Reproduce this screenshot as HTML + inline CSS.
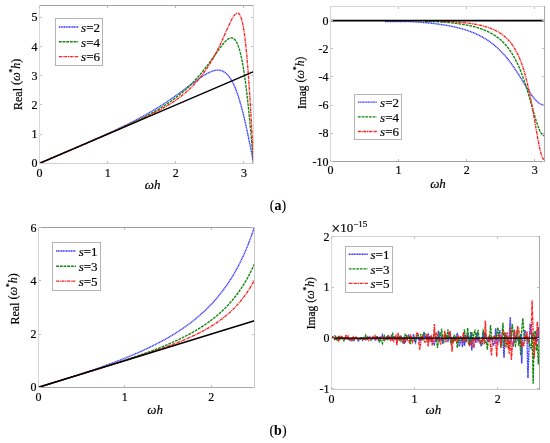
<!DOCTYPE html>
<html><head><meta charset="utf-8"><style>
html,body{margin:0;padding:0;background:#fff;}
svg{display:block;}
text{font-family:"Liberation Serif",serif;fill:#000;stroke:#000;stroke-width:0.18px;}
.tk, svg > g.t text{font-size:12px;}
.lg{font-size:13px;}
.xl{font-size:13px;font-style:italic;}
.yl{font-size:12px;}
.cap{font-size:14px;stroke-width:0.05px;}
</style></head><body>
<svg width="550" height="443" viewBox="0 0 550 443">
<defs><clipPath id="c1"><rect x="39.5" y="5.5" width="214.1" height="157.8"/></clipPath><clipPath id="c2"><rect x="330.5" y="6.5" width="214.0" height="154.9"/></clipPath><clipPath id="c3"><rect x="38.5" y="227.5" width="215.9" height="159.8"/></clipPath><clipPath id="c4"><rect x="331.4" y="236.5" width="208.0" height="152.8"/></clipPath></defs>
<rect width="550" height="443" fill="#fff"/>
<g><path d="M39.50,163.30 L40.04,163.07 L40.57,162.84 L41.11,162.61 L41.65,162.38 L42.18,162.15 L42.72,161.92 L43.26,161.69 L43.79,161.46 L44.33,161.23 L44.87,161.00 L45.40,160.77 L45.94,160.54 L46.48,160.31 L47.01,160.08 L47.55,159.85 L48.09,159.62 L48.62,159.39 L49.16,159.16 L49.70,158.93 L50.23,158.70 L50.77,158.47 L51.31,158.24 L51.84,158.01 L52.38,157.78 L52.91,157.55 L53.45,157.32 L53.99,157.09 L54.52,156.86 L55.06,156.63 L55.60,156.40 L56.13,156.17 L56.67,155.94 L57.21,155.71 L57.74,155.48 L58.28,155.25 L58.82,155.02 L59.35,154.79 L59.89,154.56 L60.43,154.33 L60.96,154.10 L61.50,153.87 L62.04,153.64 L62.57,153.41 L63.11,153.18 L63.65,152.95 L64.18,152.72 L64.72,152.49 L65.26,152.26 L65.79,152.03 L66.33,151.80 L66.87,151.57 L67.40,151.34 L67.94,151.11 L68.48,150.88 L69.01,150.65 L69.55,150.42 L70.09,150.19 L70.62,149.96 L71.16,149.73 L71.70,149.50 L72.23,149.26 L72.77,149.03 L73.31,148.80 L73.84,148.57 L74.38,148.34 L74.92,148.11 L75.45,147.88 L75.99,147.65 L76.52,147.42 L77.06,147.18 L77.60,146.95 L78.13,146.72 L78.67,146.49 L79.21,146.26 L79.74,146.03 L80.28,145.79 L80.82,145.56 L81.35,145.33 L81.89,145.10 L82.43,144.87 L82.96,144.63 L83.50,144.40 L84.04,144.17 L84.57,143.93 L85.11,143.70 L85.65,143.47 L86.18,143.23 L86.72,143.00 L87.26,142.77 L87.79,142.53 L88.33,142.30 L88.87,142.07 L89.40,141.83 L89.94,141.60 L90.48,141.36 L91.01,141.13 L91.55,140.89 L92.09,140.66 L92.62,140.42 L93.16,140.19 L93.70,139.95 L94.23,139.71 L94.77,139.48 L95.31,139.24 L95.84,139.00 L96.38,138.77 L96.92,138.53 L97.45,138.29 L97.99,138.05 L98.53,137.81 L99.06,137.58 L99.60,137.34 L100.13,137.10 L100.67,136.86 L101.21,136.62 L101.74,136.38 L102.28,136.14 L102.82,135.90 L103.35,135.66 L103.89,135.41 L104.43,135.17 L104.96,134.93 L105.50,134.69 L106.04,134.44 L106.57,134.20 L107.11,133.96 L107.65,133.71 L108.18,133.47 L108.72,133.22 L109.26,132.98 L109.79,132.73 L110.33,132.48 L110.87,132.24 L111.40,131.99 L111.94,131.74 L112.48,131.49 L113.01,131.25 L113.55,131.00 L114.09,130.75 L114.62,130.50 L115.16,130.24 L115.70,129.99 L116.23,129.74 L116.77,129.49 L117.31,129.23 L117.84,128.98 L118.38,128.73 L118.92,128.47 L119.45,128.22 L119.99,127.96 L120.53,127.70 L121.06,127.44 L121.60,127.19 L122.14,126.93 L122.67,126.67 L123.21,126.41 L123.74,126.15 L124.28,125.88 L124.82,125.62 L125.35,125.36 L125.89,125.10 L126.43,124.83 L126.96,124.57 L127.50,124.30 L128.04,124.03 L128.57,123.76 L129.11,123.50 L129.65,123.23 L130.18,122.96 L130.72,122.68 L131.26,122.41 L131.79,122.14 L132.33,121.87 L132.87,121.59 L133.40,121.32 L133.94,121.04 L134.48,120.76 L135.01,120.48 L135.55,120.20 L136.09,119.92 L136.62,119.64 L137.16,119.36 L137.70,119.08 L138.23,118.79 L138.77,118.51 L139.31,118.22 L139.84,117.93 L140.38,117.64 L140.92,117.35 L141.45,117.06 L141.99,116.77 L142.53,116.48 L143.06,116.18 L143.60,115.89 L144.14,115.59 L144.67,115.29 L145.21,115.00 L145.75,114.70 L146.28,114.40 L146.82,114.09 L147.35,113.79 L147.89,113.48 L148.43,113.18 L148.96,112.87 L149.50,112.56 L150.04,112.25 L150.57,111.94 L151.11,111.63 L151.65,111.31 L152.18,111.00 L152.72,110.68 L153.26,110.36 L153.79,110.05 L154.33,109.73 L154.87,109.40 L155.40,109.08 L155.94,108.75 L156.48,108.43 L157.01,108.10 L157.55,107.77 L158.09,107.44 L158.62,107.11 L159.16,106.78 L159.70,106.44 L160.23,106.10 L160.77,105.77 L161.31,105.43 L161.84,105.09 L162.38,104.74 L162.92,104.40 L163.45,104.06 L163.99,103.71 L164.53,103.36 L165.06,103.01 L165.60,102.66 L166.14,102.31 L166.67,101.95 L167.21,101.60 L167.75,101.24 L168.28,100.88 L168.82,100.52 L169.36,100.16 L169.89,99.79 L170.43,99.43 L170.96,99.06 L171.50,98.69 L172.04,98.32 L172.57,97.95 L173.11,97.58 L173.65,97.21 L174.18,96.83 L174.72,96.46 L175.26,96.08 L175.79,95.70 L176.33,95.32 L176.87,94.94 L177.40,94.55 L177.94,94.17 L178.48,93.78 L179.01,93.40 L179.55,93.01 L180.09,92.62 L180.62,92.23 L181.16,91.84 L181.70,91.44 L182.23,91.05 L182.77,90.65 L183.31,90.26 L183.84,89.86 L184.38,89.47 L184.92,89.07 L185.45,88.67 L185.99,88.27 L186.53,87.87 L187.06,87.47 L187.60,87.07 L188.14,86.67 L188.67,86.27 L189.21,85.87 L189.75,85.47 L190.28,85.07 L190.82,84.67 L191.36,84.27 L191.89,83.87 L192.43,83.47 L192.97,83.07 L193.50,82.67 L194.04,82.28 L194.57,81.88 L195.11,81.49 L195.65,81.10 L196.18,80.71 L196.72,80.32 L197.26,79.93 L197.79,79.55 L198.33,79.17 L198.87,78.79 L199.40,78.41 L199.94,78.04 L200.48,77.67 L201.01,77.30 L201.55,76.94 L202.09,76.59 L202.62,76.24 L203.16,75.89 L203.70,75.55 L204.23,75.21 L204.77,74.88 L205.31,74.56 L205.84,74.24 L206.38,73.94 L206.92,73.63 L207.45,73.34 L207.99,73.06 L208.53,72.78 L209.06,72.52 L209.60,72.26 L210.14,72.02 L210.67,71.79 L211.21,71.57 L211.75,71.36 L212.28,71.16 L212.82,70.98 L213.36,70.82 L213.89,70.67 L214.43,70.53 L214.97,70.41 L215.50,70.31 L216.04,70.23 L216.58,70.17 L217.11,70.13 L217.65,70.11 L218.18,70.11 L218.72,70.13 L219.26,70.18 L219.79,70.25 L220.33,70.35 L220.87,70.47 L221.40,70.63 L221.94,70.81 L222.48,71.02 L223.01,71.26 L223.55,71.54 L224.09,71.85 L224.62,72.20 L225.16,72.58 L225.70,73.00 L226.23,73.45 L226.77,73.95 L227.31,74.49 L227.84,75.07 L228.38,75.69 L228.92,76.36 L229.45,77.07 L229.99,77.83 L230.53,78.64 L231.06,79.50 L231.60,80.41 L232.14,81.37 L232.67,82.39 L233.21,83.45 L233.75,84.57 L234.28,85.75 L234.82,86.99 L235.36,88.28 L235.89,89.62 L236.43,91.03 L236.97,92.50 L237.50,94.02 L238.04,95.61 L238.58,97.25 L239.11,98.95 L239.65,100.71 L240.19,102.54 L240.72,104.42 L241.26,106.35 L241.79,108.35 L242.33,110.40 L242.87,112.51 L243.40,114.67 L243.94,116.89 L244.48,119.15 L245.01,121.47 L245.55,123.83 L246.09,126.24 L246.62,128.70 L247.16,131.19 L247.70,133.72 L248.23,136.29 L248.77,138.90 L249.31,141.53 L249.84,144.19 L250.38,146.87 L250.92,149.58 L251.45,152.30 L251.99,155.04 L252.53,157.79 L253.06,160.54 L253.60,163.30" fill="none" stroke="#3434ff" stroke-dasharray="1.2 0.45" stroke-width="1.35" clip-path="url(#c1)"/><path d="M39.50,163.30 L40.04,163.07 L40.57,162.84 L41.11,162.61 L41.65,162.38 L42.18,162.15 L42.72,161.92 L43.26,161.69 L43.79,161.46 L44.33,161.23 L44.87,161.00 L45.40,160.77 L45.94,160.54 L46.48,160.31 L47.01,160.08 L47.55,159.85 L48.09,159.62 L48.62,159.39 L49.16,159.16 L49.70,158.93 L50.23,158.70 L50.77,158.47 L51.31,158.24 L51.84,158.01 L52.38,157.78 L52.91,157.55 L53.45,157.32 L53.99,157.09 L54.52,156.86 L55.06,156.63 L55.60,156.40 L56.13,156.17 L56.67,155.94 L57.21,155.71 L57.74,155.48 L58.28,155.25 L58.82,155.02 L59.35,154.79 L59.89,154.56 L60.43,154.33 L60.96,154.10 L61.50,153.87 L62.04,153.64 L62.57,153.41 L63.11,153.18 L63.65,152.95 L64.18,152.72 L64.72,152.49 L65.26,152.26 L65.79,152.03 L66.33,151.80 L66.87,151.57 L67.40,151.34 L67.94,151.11 L68.48,150.88 L69.01,150.65 L69.55,150.42 L70.09,150.19 L70.62,149.96 L71.16,149.73 L71.70,149.50 L72.23,149.27 L72.77,149.04 L73.31,148.81 L73.84,148.58 L74.38,148.35 L74.92,148.12 L75.45,147.89 L75.99,147.66 L76.52,147.43 L77.06,147.20 L77.60,146.97 L78.13,146.74 L78.67,146.51 L79.21,146.28 L79.74,146.05 L80.28,145.82 L80.82,145.59 L81.35,145.36 L81.89,145.13 L82.43,144.90 L82.96,144.67 L83.50,144.44 L84.04,144.21 L84.57,143.98 L85.11,143.75 L85.65,143.52 L86.18,143.29 L86.72,143.06 L87.26,142.83 L87.79,142.60 L88.33,142.37 L88.87,142.14 L89.40,141.91 L89.94,141.68 L90.48,141.45 L91.01,141.22 L91.55,140.99 L92.09,140.75 L92.62,140.52 L93.16,140.29 L93.70,140.06 L94.23,139.83 L94.77,139.60 L95.31,139.37 L95.84,139.14 L96.38,138.91 L96.92,138.67 L97.45,138.44 L97.99,138.21 L98.53,137.98 L99.06,137.75 L99.60,137.52 L100.13,137.28 L100.67,137.05 L101.21,136.82 L101.74,136.59 L102.28,136.35 L102.82,136.12 L103.35,135.89 L103.89,135.66 L104.43,135.42 L104.96,135.19 L105.50,134.96 L106.04,134.72 L106.57,134.49 L107.11,134.25 L107.65,134.02 L108.18,133.79 L108.72,133.55 L109.26,133.32 L109.79,133.08 L110.33,132.85 L110.87,132.61 L111.40,132.38 L111.94,132.14 L112.48,131.90 L113.01,131.67 L113.55,131.43 L114.09,131.19 L114.62,130.96 L115.16,130.72 L115.70,130.48 L116.23,130.24 L116.77,130.00 L117.31,129.77 L117.84,129.53 L118.38,129.29 L118.92,129.05 L119.45,128.81 L119.99,128.57 L120.53,128.33 L121.06,128.08 L121.60,127.84 L122.14,127.60 L122.67,127.36 L123.21,127.11 L123.74,126.87 L124.28,126.63 L124.82,126.38 L125.35,126.14 L125.89,125.89 L126.43,125.64 L126.96,125.40 L127.50,125.15 L128.04,124.90 L128.57,124.65 L129.11,124.40 L129.65,124.15 L130.18,123.90 L130.72,123.65 L131.26,123.40 L131.79,123.15 L132.33,122.90 L132.87,122.64 L133.40,122.39 L133.94,122.13 L134.48,121.87 L135.01,121.62 L135.55,121.36 L136.09,121.10 L136.62,120.84 L137.16,120.58 L137.70,120.32 L138.23,120.06 L138.77,119.79 L139.31,119.53 L139.84,119.26 L140.38,119.00 L140.92,118.73 L141.45,118.46 L141.99,118.19 L142.53,117.92 L143.06,117.65 L143.60,117.38 L144.14,117.10 L144.67,116.83 L145.21,116.55 L145.75,116.27 L146.28,115.99 L146.82,115.71 L147.35,115.43 L147.89,115.15 L148.43,114.86 L148.96,114.58 L149.50,114.29 L150.04,114.00 L150.57,113.71 L151.11,113.42 L151.65,113.12 L152.18,112.83 L152.72,112.53 L153.26,112.23 L153.79,111.93 L154.33,111.63 L154.87,111.32 L155.40,111.02 L155.94,110.71 L156.48,110.40 L157.01,110.09 L157.55,109.78 L158.09,109.46 L158.62,109.14 L159.16,108.82 L159.70,108.50 L160.23,108.18 L160.77,107.85 L161.31,107.52 L161.84,107.19 L162.38,106.86 L162.92,106.53 L163.45,106.19 L163.99,105.85 L164.53,105.51 L165.06,105.16 L165.60,104.81 L166.14,104.46 L166.67,104.11 L167.21,103.75 L167.75,103.40 L168.28,103.03 L168.82,102.67 L169.36,102.30 L169.89,101.93 L170.43,101.56 L170.96,101.18 L171.50,100.81 L172.04,100.42 L172.57,100.04 L173.11,99.65 L173.65,99.26 L174.18,98.86 L174.72,98.46 L175.26,98.06 L175.79,97.65 L176.33,97.24 L176.87,96.83 L177.40,96.41 L177.94,95.99 L178.48,95.57 L179.01,95.14 L179.55,94.71 L180.09,94.27 L180.62,93.83 L181.16,93.39 L181.70,92.94 L182.23,92.48 L182.77,92.03 L183.31,91.56 L183.84,91.10 L184.38,90.63 L184.92,90.15 L185.45,89.67 L185.99,89.19 L186.53,88.70 L187.06,88.20 L187.60,87.70 L188.14,87.20 L188.67,86.69 L189.21,86.18 L189.75,85.66 L190.28,85.13 L190.82,84.60 L191.36,84.07 L191.89,83.52 L192.43,82.98 L192.97,82.43 L193.50,81.87 L194.04,81.31 L194.57,80.74 L195.11,80.16 L195.65,79.58 L196.18,79.00 L196.72,78.40 L197.26,77.81 L197.79,77.20 L198.33,76.59 L198.87,75.98 L199.40,75.36 L199.94,74.73 L200.48,74.10 L201.01,73.46 L201.55,72.81 L202.09,72.16 L202.62,71.50 L203.16,70.84 L203.70,70.17 L204.23,69.49 L204.77,68.81 L205.31,68.12 L205.84,67.43 L206.38,66.73 L206.92,66.03 L207.45,65.32 L207.99,64.61 L208.53,63.89 L209.06,63.16 L209.60,62.43 L210.14,61.70 L210.67,60.96 L211.21,60.22 L211.75,59.48 L212.28,58.73 L212.82,57.98 L213.36,57.23 L213.89,56.47 L214.43,55.72 L214.97,54.96 L215.50,54.21 L216.04,53.45 L216.58,52.70 L217.11,51.94 L217.65,51.19 L218.18,50.45 L218.72,49.71 L219.26,48.97 L219.79,48.24 L220.33,47.52 L220.87,46.81 L221.40,46.11 L221.94,45.42 L222.48,44.75 L223.01,44.10 L223.55,43.46 L224.09,42.84 L224.62,42.25 L225.16,41.68 L225.70,41.13 L226.23,40.62 L226.77,40.14 L227.31,39.70 L227.84,39.30 L228.38,38.94 L228.92,38.62 L229.45,38.36 L229.99,38.16 L230.53,38.01 L231.06,37.93 L231.60,37.92 L232.14,37.98 L232.67,38.13 L233.21,38.36 L233.75,38.68 L234.28,39.10 L234.82,39.63 L235.36,40.27 L235.89,41.03 L236.43,41.91 L236.97,42.93 L237.50,44.08 L238.04,45.39 L238.58,46.85 L239.11,48.47 L239.65,50.27 L240.19,52.24 L240.72,54.39 L241.26,56.73 L241.79,59.27 L242.33,62.01 L242.87,64.95 L243.40,68.11 L243.94,71.47 L244.48,75.05 L245.01,78.85 L245.55,82.85 L246.09,87.07 L246.62,91.50 L247.16,96.12 L247.70,100.95 L248.23,105.96 L248.77,111.14 L249.31,116.49 L249.84,121.99 L250.38,127.63 L250.92,133.38 L251.45,139.24 L251.99,145.18 L252.53,151.19 L253.06,157.23 L253.60,163.30" fill="none" stroke="#0c860c" stroke-dasharray="2.8 0.9" stroke-width="1.35" clip-path="url(#c1)"/><path d="M39.50,163.30 L40.04,163.07 L40.57,162.84 L41.11,162.61 L41.65,162.38 L42.18,162.15 L42.72,161.92 L43.26,161.69 L43.79,161.46 L44.33,161.23 L44.87,161.00 L45.40,160.77 L45.94,160.54 L46.48,160.31 L47.01,160.08 L47.55,159.85 L48.09,159.62 L48.62,159.39 L49.16,159.16 L49.70,158.93 L50.23,158.70 L50.77,158.47 L51.31,158.24 L51.84,158.01 L52.38,157.78 L52.91,157.55 L53.45,157.32 L53.99,157.09 L54.52,156.86 L55.06,156.63 L55.60,156.40 L56.13,156.17 L56.67,155.94 L57.21,155.71 L57.74,155.48 L58.28,155.25 L58.82,155.02 L59.35,154.79 L59.89,154.56 L60.43,154.33 L60.96,154.10 L61.50,153.87 L62.04,153.64 L62.57,153.41 L63.11,153.18 L63.65,152.95 L64.18,152.72 L64.72,152.49 L65.26,152.26 L65.79,152.03 L66.33,151.80 L66.87,151.57 L67.40,151.34 L67.94,151.11 L68.48,150.88 L69.01,150.65 L69.55,150.42 L70.09,150.20 L70.62,149.97 L71.16,149.74 L71.70,149.51 L72.23,149.28 L72.77,149.05 L73.31,148.82 L73.84,148.59 L74.38,148.36 L74.92,148.13 L75.45,147.90 L75.99,147.67 L76.52,147.44 L77.06,147.21 L77.60,146.98 L78.13,146.75 L78.67,146.52 L79.21,146.29 L79.74,146.06 L80.28,145.83 L80.82,145.60 L81.35,145.37 L81.89,145.14 L82.43,144.91 L82.96,144.68 L83.50,144.45 L84.04,144.22 L84.57,143.99 L85.11,143.76 L85.65,143.53 L86.18,143.30 L86.72,143.07 L87.26,142.84 L87.79,142.61 L88.33,142.38 L88.87,142.15 L89.40,141.92 L89.94,141.69 L90.48,141.46 L91.01,141.23 L91.55,141.00 L92.09,140.77 L92.62,140.54 L93.16,140.31 L93.70,140.08 L94.23,139.85 L94.77,139.62 L95.31,139.39 L95.84,139.16 L96.38,138.93 L96.92,138.70 L97.45,138.47 L97.99,138.24 L98.53,138.01 L99.06,137.77 L99.60,137.54 L100.13,137.31 L100.67,137.08 L101.21,136.85 L101.74,136.62 L102.28,136.39 L102.82,136.16 L103.35,135.93 L103.89,135.70 L104.43,135.47 L104.96,135.24 L105.50,135.01 L106.04,134.78 L106.57,134.55 L107.11,134.32 L107.65,134.08 L108.18,133.85 L108.72,133.62 L109.26,133.39 L109.79,133.16 L110.33,132.93 L110.87,132.70 L111.40,132.47 L111.94,132.23 L112.48,132.00 L113.01,131.77 L113.55,131.54 L114.09,131.31 L114.62,131.07 L115.16,130.84 L115.70,130.61 L116.23,130.38 L116.77,130.14 L117.31,129.91 L117.84,129.68 L118.38,129.45 L118.92,129.21 L119.45,128.98 L119.99,128.74 L120.53,128.51 L121.06,128.28 L121.60,128.04 L122.14,127.81 L122.67,127.57 L123.21,127.34 L123.74,127.10 L124.28,126.87 L124.82,126.63 L125.35,126.40 L125.89,126.16 L126.43,125.92 L126.96,125.69 L127.50,125.45 L128.04,125.21 L128.57,124.97 L129.11,124.74 L129.65,124.50 L130.18,124.26 L130.72,124.02 L131.26,123.78 L131.79,123.54 L132.33,123.30 L132.87,123.06 L133.40,122.82 L133.94,122.58 L134.48,122.33 L135.01,122.09 L135.55,121.85 L136.09,121.60 L136.62,121.36 L137.16,121.11 L137.70,120.87 L138.23,120.62 L138.77,120.38 L139.31,120.13 L139.84,119.88 L140.38,119.63 L140.92,119.38 L141.45,119.13 L141.99,118.88 L142.53,118.63 L143.06,118.38 L143.60,118.12 L144.14,117.87 L144.67,117.61 L145.21,117.36 L145.75,117.10 L146.28,116.84 L146.82,116.58 L147.35,116.32 L147.89,116.06 L148.43,115.80 L148.96,115.54 L149.50,115.27 L150.04,115.01 L150.57,114.74 L151.11,114.47 L151.65,114.20 L152.18,113.93 L152.72,113.66 L153.26,113.39 L153.79,113.11 L154.33,112.84 L154.87,112.56 L155.40,112.28 L155.94,112.00 L156.48,111.72 L157.01,111.44 L157.55,111.15 L158.09,110.86 L158.62,110.57 L159.16,110.28 L159.70,109.99 L160.23,109.70 L160.77,109.40 L161.31,109.10 L161.84,108.80 L162.38,108.50 L162.92,108.20 L163.45,107.89 L163.99,107.58 L164.53,107.27 L165.06,106.96 L165.60,106.64 L166.14,106.32 L166.67,106.00 L167.21,105.68 L167.75,105.35 L168.28,105.02 L168.82,104.69 L169.36,104.36 L169.89,104.02 L170.43,103.68 L170.96,103.34 L171.50,102.99 L172.04,102.64 L172.57,102.29 L173.11,101.93 L173.65,101.57 L174.18,101.21 L174.72,100.84 L175.26,100.48 L175.79,100.10 L176.33,99.72 L176.87,99.34 L177.40,98.96 L177.94,98.57 L178.48,98.18 L179.01,97.78 L179.55,97.38 L180.09,96.97 L180.62,96.56 L181.16,96.15 L181.70,95.73 L182.23,95.30 L182.77,94.87 L183.31,94.44 L183.84,94.00 L184.38,93.55 L184.92,93.11 L185.45,92.65 L185.99,92.19 L186.53,91.72 L187.06,91.25 L187.60,90.77 L188.14,90.29 L188.67,89.80 L189.21,89.30 L189.75,88.80 L190.28,88.29 L190.82,87.77 L191.36,87.25 L191.89,86.72 L192.43,86.18 L192.97,85.64 L193.50,85.08 L194.04,84.52 L194.57,83.96 L195.11,83.38 L195.65,82.80 L196.18,82.21 L196.72,81.61 L197.26,81.00 L197.79,80.38 L198.33,79.76 L198.87,79.12 L199.40,78.48 L199.94,77.82 L200.48,77.16 L201.01,76.49 L201.55,75.80 L202.09,75.11 L202.62,74.41 L203.16,73.69 L203.70,72.97 L204.23,72.23 L204.77,71.48 L205.31,70.72 L205.84,69.95 L206.38,69.17 L206.92,68.38 L207.45,67.57 L207.99,66.75 L208.53,65.92 L209.06,65.08 L209.60,64.22 L210.14,63.35 L210.67,62.47 L211.21,61.57 L211.75,60.66 L212.28,59.74 L212.82,58.80 L213.36,57.85 L213.89,56.89 L214.43,55.91 L214.97,54.92 L215.50,53.91 L216.04,52.89 L216.58,51.85 L217.11,50.81 L217.65,49.74 L218.18,48.67 L218.72,47.58 L219.26,46.48 L219.79,45.36 L220.33,44.23 L220.87,43.10 L221.40,41.94 L221.94,40.78 L222.48,39.61 L223.01,38.43 L223.55,37.24 L224.09,36.05 L224.62,34.85 L225.16,33.64 L225.70,32.44 L226.23,31.23 L226.77,30.03 L227.31,28.83 L227.84,27.63 L228.38,26.45 L228.92,25.28 L229.45,24.12 L229.99,22.99 L230.53,21.88 L231.06,20.81 L231.60,19.77 L232.14,18.77 L232.67,17.83 L233.21,16.94 L233.75,16.11 L234.28,15.37 L234.82,14.70 L235.36,14.13 L235.89,13.67 L236.43,13.33 L236.97,13.12 L237.50,13.06 L238.04,13.17 L238.58,13.45 L239.11,13.94 L239.65,14.65 L240.19,15.60 L240.72,16.81 L241.26,18.30 L241.79,20.10 L242.33,22.23 L242.87,24.71 L243.40,27.57 L243.94,30.82 L244.48,34.50 L245.01,38.61 L245.55,43.18 L246.09,48.21 L246.62,53.73 L247.16,59.73 L247.70,66.21 L248.23,73.18 L248.77,80.62 L249.31,88.50 L249.84,96.81 L250.38,105.52 L250.92,114.57 L251.45,123.93 L251.99,133.55 L252.53,143.35 L253.06,153.29 L253.60,163.30" fill="none" stroke="#ff1c1c" stroke-dasharray="3 0.7 1 0.7" stroke-width="1.35" clip-path="url(#c1)"/><path d="M39.50,163.30 L253.60,71.57" fill="none" stroke="#000" stroke-width="1.45" clip-path="url(#c1)"/><path d="M384.99,21.60 L385.39,21.60 L385.79,21.60 L386.19,21.60 L386.59,21.60 L386.99,21.60 L387.39,21.60 L387.79,21.60 L388.19,21.60 L388.59,21.60 L388.99,21.60 L389.39,21.60 L389.79,21.60 L390.19,21.60 L390.59,21.60 L390.99,21.60 L391.39,21.60 L391.79,21.60 L392.19,21.60 L392.59,21.60 L392.99,21.60 L393.39,21.60 L393.79,21.60 L394.19,21.60 L394.59,21.60 L394.99,21.60 L395.39,21.60 L395.79,21.60 L396.19,21.60 L396.59,21.60 L396.99,21.60 L397.39,21.60 L397.79,21.60 L398.19,21.60 L398.59,21.60 L398.99,21.60 L399.39,21.60 L399.79,21.60 L400.19,21.60 L400.59,21.60 L400.99,21.60 L401.38,21.60 L401.78,21.60 L402.18,21.60 L402.58,21.60 L402.98,21.60 L403.38,21.60 L403.78,21.60 L404.18,21.60 L404.58,21.60 L404.98,21.60 L405.38,21.60 L405.78,21.60 L406.18,21.60 L406.58,21.60 L406.98,21.60 L407.38,21.60 L407.78,21.60 L408.18,21.60 L408.58,21.60 L408.98,21.60 L409.38,21.60 L409.78,21.61 L410.18,21.63 L410.58,21.65 L410.98,21.67 L411.38,21.69 L411.78,21.71 L412.18,21.74 L412.58,21.76 L412.98,21.78 L413.38,21.80 L413.78,21.83 L414.18,21.85 L414.58,21.87 L414.98,21.90 L415.38,21.92 L415.78,21.95 L416.18,21.97 L416.58,22.00 L416.98,22.03 L417.38,22.05 L417.78,22.08 L418.17,22.11 L418.57,22.13 L418.97,22.16 L419.37,22.19 L419.77,22.22 L420.17,22.25 L420.57,22.28 L420.97,22.31 L421.37,22.34 L421.77,22.37 L422.17,22.40 L422.57,22.43 L422.97,22.46 L423.37,22.50 L423.77,22.53 L424.17,22.56 L424.57,22.60 L424.97,22.63 L425.37,22.67 L425.77,22.70 L426.17,22.74 L426.57,22.77 L426.97,22.81 L427.37,22.85 L427.77,22.89 L428.17,22.92 L428.57,22.96 L428.97,23.00 L429.37,23.04 L429.77,23.08 L430.17,23.12 L430.57,23.17 L430.97,23.21 L431.37,23.25 L431.77,23.29 L432.17,23.34 L432.57,23.38 L432.97,23.43 L433.37,23.47 L433.77,23.52 L434.17,23.57 L434.57,23.61 L434.96,23.66 L435.36,23.71 L435.76,23.76 L436.16,23.81 L436.56,23.86 L436.96,23.91 L437.36,23.96 L437.76,24.01 L438.16,24.07 L438.56,24.12 L438.96,24.18 L439.36,24.23 L439.76,24.29 L440.16,24.34 L440.56,24.40 L440.96,24.46 L441.36,24.52 L441.76,24.58 L442.16,24.64 L442.56,24.70 L442.96,24.76 L443.36,24.82 L443.76,24.89 L444.16,24.95 L444.56,25.02 L444.96,25.08 L445.36,25.15 L445.76,25.22 L446.16,25.29 L446.56,25.35 L446.96,25.43 L447.36,25.50 L447.76,25.57 L448.16,25.64 L448.56,25.72 L448.96,25.79 L449.36,25.87 L449.76,25.94 L450.16,26.02 L450.56,26.10 L450.96,26.18 L451.36,26.26 L451.76,26.34 L452.15,26.42 L452.55,26.51 L452.95,26.59 L453.35,26.68 L453.75,26.77 L454.15,26.86 L454.55,26.94 L454.95,27.04 L455.35,27.13 L455.75,27.22 L456.15,27.31 L456.55,27.41 L456.95,27.51 L457.35,27.60 L457.75,27.70 L458.15,27.80 L458.55,27.90 L458.95,28.01 L459.35,28.11 L459.75,28.22 L460.15,28.32 L460.55,28.43 L460.95,28.54 L461.35,28.65 L461.75,28.76 L462.15,28.88 L462.55,28.99 L462.95,29.11 L463.35,29.23 L463.75,29.35 L464.15,29.47 L464.55,29.59 L464.95,29.72 L465.35,29.84 L465.75,29.97 L466.15,30.10 L466.55,30.23 L466.95,30.36 L467.35,30.50 L467.75,30.64 L468.15,30.77 L468.55,30.91 L468.94,31.05 L469.34,31.20 L469.74,31.34 L470.14,31.49 L470.54,31.64 L470.94,31.79 L471.34,31.94 L471.74,32.10 L472.14,32.26 L472.54,32.42 L472.94,32.58 L473.34,32.74 L473.74,32.91 L474.14,33.07 L474.54,33.24 L474.94,33.42 L475.34,33.59 L475.74,33.77 L476.14,33.95 L476.54,34.13 L476.94,34.31 L477.34,34.50 L477.74,34.69 L478.14,34.88 L478.54,35.07 L478.94,35.27 L479.34,35.47 L479.74,35.67 L480.14,35.87 L480.54,36.08 L480.94,36.29 L481.34,36.50 L481.74,36.72 L482.14,36.94 L482.54,37.16 L482.94,37.38 L483.34,37.61 L483.74,37.84 L484.14,38.07 L484.54,38.31 L484.94,38.55 L485.34,38.79 L485.73,39.04 L486.13,39.29 L486.53,39.54 L486.93,39.80 L487.33,40.06 L487.73,40.32 L488.13,40.59 L488.53,40.86 L488.93,41.13 L489.33,41.41 L489.73,41.69 L490.13,41.98 L490.53,42.27 L490.93,42.56 L491.33,42.85 L491.73,43.16 L492.13,43.46 L492.53,43.77 L492.93,44.08 L493.33,44.40 L493.73,44.72 L494.13,45.05 L494.53,45.37 L494.93,45.71 L495.33,46.05 L495.73,46.39 L496.13,46.74 L496.53,47.09 L496.93,47.45 L497.33,47.81 L497.73,48.17 L498.13,48.54 L498.53,48.92 L498.93,49.30 L499.33,49.69 L499.73,50.08 L500.13,50.47 L500.53,50.87 L500.93,51.28 L501.33,51.69 L501.73,52.10 L502.13,52.52 L502.52,52.95 L502.92,53.38 L503.32,53.82 L503.72,54.26 L504.12,54.71 L504.52,55.16 L504.92,55.62 L505.32,56.08 L505.72,56.55 L506.12,57.02 L506.52,57.50 L506.92,57.99 L507.32,58.48 L507.72,58.98 L508.12,59.48 L508.52,59.99 L508.92,60.50 L509.32,61.02 L509.72,61.54 L510.12,62.07 L510.52,62.61 L510.92,63.15 L511.32,63.69 L511.72,64.24 L512.12,64.80 L512.52,65.36 L512.92,65.93 L513.32,66.50 L513.72,67.08 L514.12,67.66 L514.52,68.24 L514.92,68.84 L515.32,69.43 L515.72,70.03 L516.12,70.64 L516.52,71.25 L516.92,71.86 L517.32,72.48 L517.72,73.10 L518.12,73.72 L518.52,74.35 L518.92,74.98 L519.31,75.62 L519.71,76.25 L520.11,76.89 L520.51,77.54 L520.91,78.18 L521.31,78.83 L521.71,79.48 L522.11,80.13 L522.51,80.78 L522.91,81.43 L523.31,82.08 L523.71,82.73 L524.11,83.38 L524.51,84.03 L524.91,84.68 L525.31,85.33 L525.71,85.97 L526.11,86.62 L526.51,87.26 L526.91,87.89 L527.31,88.53 L527.71,89.16 L528.11,89.78 L528.51,90.40 L528.91,91.02 L529.31,91.62 L529.71,92.22 L530.11,92.82 L530.51,93.41 L530.91,93.98 L531.31,94.55 L531.71,95.11 L532.11,95.66 L532.51,96.20 L532.91,96.73 L533.31,97.25 L533.71,97.76 L534.11,98.25 L534.51,98.73 L534.91,99.20 L535.31,99.65 L535.71,100.09 L536.10,100.51 L536.50,100.91 L536.90,101.30 L537.30,101.68 L537.70,102.03 L538.10,102.37 L538.50,102.69 L538.90,102.99 L539.30,103.27 L539.70,103.54 L540.10,103.78 L540.50,104.00 L540.90,104.20 L541.30,104.39 L541.70,104.55 L542.10,104.69 L542.50,104.81 L542.90,104.91 L543.30,104.98 L543.70,105.04 L544.10,105.07 L544.50,105.08" fill="none" stroke="#3434ff" stroke-dasharray="1.2 0.45" stroke-width="1.35" clip-path="url(#c2)"/><path d="M425.18,21.60 L425.48,21.60 L425.78,21.60 L426.08,21.60 L426.38,21.60 L426.68,21.60 L426.98,21.60 L427.28,21.60 L427.58,21.60 L427.88,21.60 L428.17,21.60 L428.47,21.60 L428.77,21.60 L429.07,21.60 L429.37,21.60 L429.67,21.60 L429.97,21.60 L430.27,21.60 L430.57,21.60 L430.87,21.60 L431.17,21.60 L431.46,21.60 L431.76,21.60 L432.06,21.60 L432.36,21.60 L432.66,21.60 L432.96,21.60 L433.26,21.60 L433.56,21.60 L433.86,21.60 L434.16,21.60 L434.45,21.60 L434.75,21.60 L435.05,21.60 L435.35,21.62 L435.65,21.63 L435.95,21.65 L436.25,21.67 L436.55,21.68 L436.85,21.70 L437.15,21.72 L437.44,21.74 L437.74,21.75 L438.04,21.77 L438.34,21.79 L438.64,21.81 L438.94,21.83 L439.24,21.84 L439.54,21.86 L439.84,21.88 L440.14,21.90 L440.44,21.92 L440.73,21.94 L441.03,21.96 L441.33,21.98 L441.63,22.00 L441.93,22.03 L442.23,22.05 L442.53,22.07 L442.83,22.09 L443.13,22.11 L443.43,22.13 L443.72,22.16 L444.02,22.18 L444.32,22.20 L444.62,22.23 L444.92,22.25 L445.22,22.27 L445.52,22.30 L445.82,22.32 L446.12,22.35 L446.42,22.37 L446.72,22.40 L447.01,22.43 L447.31,22.45 L447.61,22.48 L447.91,22.51 L448.21,22.53 L448.51,22.56 L448.81,22.59 L449.11,22.62 L449.41,22.64 L449.71,22.67 L450.00,22.70 L450.30,22.73 L450.60,22.76 L450.90,22.79 L451.20,22.82 L451.50,22.85 L451.80,22.89 L452.10,22.92 L452.40,22.95 L452.70,22.98 L452.99,23.02 L453.29,23.05 L453.59,23.08 L453.89,23.12 L454.19,23.15 L454.49,23.19 L454.79,23.22 L455.09,23.26 L455.39,23.29 L455.69,23.33 L455.99,23.37 L456.28,23.41 L456.58,23.44 L456.88,23.48 L457.18,23.52 L457.48,23.56 L457.78,23.60 L458.08,23.64 L458.38,23.68 L458.68,23.72 L458.98,23.77 L459.27,23.81 L459.57,23.85 L459.87,23.89 L460.17,23.94 L460.47,23.98 L460.77,24.03 L461.07,24.07 L461.37,24.12 L461.67,24.17 L461.97,24.21 L462.26,24.26 L462.56,24.31 L462.86,24.36 L463.16,24.41 L463.46,24.46 L463.76,24.51 L464.06,24.56 L464.36,24.61 L464.66,24.66 L464.96,24.72 L465.26,24.77 L465.55,24.83 L465.85,24.88 L466.15,24.94 L466.45,24.99 L466.75,25.05 L467.05,25.11 L467.35,25.17 L467.65,25.23 L467.95,25.29 L468.25,25.35 L468.54,25.41 L468.84,25.47 L469.14,25.53 L469.44,25.60 L469.74,25.66 L470.04,25.73 L470.34,25.79 L470.64,25.86 L470.94,25.93 L471.24,26.00 L471.54,26.07 L471.83,26.14 L472.13,26.21 L472.43,26.28 L472.73,26.35 L473.03,26.43 L473.33,26.50 L473.63,26.58 L473.93,26.65 L474.23,26.73 L474.53,26.81 L474.82,26.89 L475.12,26.97 L475.42,27.05 L475.72,27.14 L476.02,27.22 L476.32,27.30 L476.62,27.39 L476.92,27.48 L477.22,27.57 L477.52,27.65 L477.81,27.74 L478.11,27.84 L478.41,27.93 L478.71,28.02 L479.01,28.12 L479.31,28.21 L479.61,28.31 L479.91,28.41 L480.21,28.51 L480.51,28.61 L480.81,28.71 L481.10,28.82 L481.40,28.92 L481.70,29.03 L482.00,29.14 L482.30,29.25 L482.60,29.36 L482.90,29.47 L483.20,29.59 L483.50,29.70 L483.80,29.82 L484.09,29.94 L484.39,30.06 L484.69,30.18 L484.99,30.30 L485.29,30.43 L485.59,30.56 L485.89,30.68 L486.19,30.81 L486.49,30.95 L486.79,31.08 L487.09,31.22 L487.38,31.35 L487.68,31.49 L487.98,31.64 L488.28,31.78 L488.58,31.92 L488.88,32.07 L489.18,32.22 L489.48,32.37 L489.78,32.53 L490.08,32.68 L490.37,32.84 L490.67,33.00 L490.97,33.16 L491.27,33.33 L491.57,33.49 L491.87,33.66 L492.17,33.83 L492.47,34.01 L492.77,34.19 L493.07,34.37 L493.36,34.55 L493.66,34.73 L493.96,34.92 L494.26,35.11 L494.56,35.30 L494.86,35.50 L495.16,35.70 L495.46,35.90 L495.76,36.10 L496.06,36.31 L496.36,36.52 L496.65,36.73 L496.95,36.95 L497.25,37.17 L497.55,37.39 L497.85,37.62 L498.15,37.85 L498.45,38.08 L498.75,38.32 L499.05,38.56 L499.35,38.80 L499.64,39.05 L499.94,39.30 L500.24,39.56 L500.54,39.82 L500.84,40.08 L501.14,40.35 L501.44,40.62 L501.74,40.89 L502.04,41.17 L502.34,41.46 L502.63,41.74 L502.93,42.04 L503.23,42.34 L503.53,42.64 L503.83,42.94 L504.13,43.26 L504.43,43.57 L504.73,43.90 L505.03,44.22 L505.33,44.55 L505.63,44.89 L505.92,45.23 L506.22,45.58 L506.52,45.94 L506.82,46.29 L507.12,46.66 L507.42,47.03 L507.72,47.41 L508.02,47.79 L508.32,48.18 L508.62,48.57 L508.91,48.98 L509.21,49.38 L509.51,49.80 L509.81,50.22 L510.11,50.65 L510.41,51.08 L510.71,51.53 L511.01,51.98 L511.31,52.43 L511.61,52.90 L511.91,53.37 L512.20,53.85 L512.50,54.34 L512.80,54.83 L513.10,55.33 L513.40,55.84 L513.70,56.36 L514.00,56.89 L514.30,57.43 L514.60,57.97 L514.90,58.53 L515.19,59.09 L515.49,59.66 L515.79,60.24 L516.09,60.83 L516.39,61.43 L516.69,62.04 L516.99,62.66 L517.29,63.29 L517.59,63.92 L517.89,64.57 L518.18,65.23 L518.48,65.90 L518.78,66.58 L519.08,67.27 L519.38,67.97 L519.68,68.68 L519.98,69.40 L520.28,70.13 L520.58,70.87 L520.88,71.62 L521.18,72.39 L521.47,73.16 L521.77,73.95 L522.07,74.74 L522.37,75.55 L522.67,76.37 L522.97,77.20 L523.27,78.04 L523.57,78.89 L523.87,79.76 L524.17,80.63 L524.46,81.52 L524.76,82.41 L525.06,83.32 L525.36,84.23 L525.66,85.16 L525.96,86.10 L526.26,87.04 L526.56,88.00 L526.86,88.96 L527.16,89.94 L527.45,90.92 L527.75,91.91 L528.05,92.91 L528.35,93.92 L528.65,94.94 L528.95,95.96 L529.25,96.99 L529.55,98.02 L529.85,99.06 L530.15,100.11 L530.45,101.16 L530.74,102.21 L531.04,103.26 L531.34,104.32 L531.64,105.38 L531.94,106.43 L532.24,107.49 L532.54,108.55 L532.84,109.60 L533.14,110.65 L533.44,111.69 L533.73,112.73 L534.03,113.77 L534.33,114.79 L534.63,115.81 L534.93,116.81 L535.23,117.80 L535.53,118.79 L535.83,119.75 L536.13,120.70 L536.43,121.64 L536.73,122.55 L537.02,123.45 L537.32,124.33 L537.62,125.18 L537.92,126.01 L538.22,126.82 L538.52,127.59 L538.82,128.34 L539.12,129.07 L539.42,129.76 L539.72,130.42 L540.01,131.04 L540.31,131.63 L540.61,132.19 L540.91,132.71 L541.21,133.19 L541.51,133.64 L541.81,134.04 L542.11,134.41 L542.41,134.73 L542.71,135.01 L543.00,135.25 L543.30,135.45 L543.60,135.60 L543.90,135.71 L544.20,135.78 L544.50,135.80" fill="none" stroke="#0c860c" stroke-dasharray="2.8 0.9" stroke-width="1.35" clip-path="url(#c2)"/><path d="M441.53,21.60 L441.79,21.60 L442.05,21.60 L442.31,21.60 L442.57,21.60 L442.82,21.60 L443.08,21.60 L443.34,21.60 L443.60,21.60 L443.86,21.60 L444.11,21.60 L444.37,21.60 L444.63,21.60 L444.89,21.60 L445.15,21.60 L445.40,21.60 L445.66,21.60 L445.92,21.60 L446.18,21.60 L446.44,21.60 L446.69,21.60 L446.95,21.60 L447.21,21.60 L447.47,21.60 L447.73,21.60 L447.98,21.60 L448.24,21.60 L448.50,21.60 L448.76,21.60 L449.02,21.60 L449.27,21.60 L449.53,21.60 L449.79,21.60 L450.05,21.60 L450.31,21.60 L450.57,21.60 L450.82,21.62 L451.08,21.63 L451.34,21.65 L451.60,21.66 L451.86,21.68 L452.11,21.69 L452.37,21.71 L452.63,21.72 L452.89,21.74 L453.15,21.76 L453.40,21.77 L453.66,21.79 L453.92,21.81 L454.18,21.83 L454.44,21.84 L454.69,21.86 L454.95,21.88 L455.21,21.90 L455.47,21.92 L455.73,21.93 L455.98,21.95 L456.24,21.97 L456.50,21.99 L456.76,22.01 L457.02,22.03 L457.27,22.05 L457.53,22.07 L457.79,22.09 L458.05,22.11 L458.31,22.13 L458.57,22.16 L458.82,22.18 L459.08,22.20 L459.34,22.22 L459.60,22.24 L459.86,22.27 L460.11,22.29 L460.37,22.31 L460.63,22.34 L460.89,22.36 L461.15,22.38 L461.40,22.41 L461.66,22.43 L461.92,22.46 L462.18,22.48 L462.44,22.51 L462.69,22.53 L462.95,22.56 L463.21,22.59 L463.47,22.61 L463.73,22.64 L463.98,22.67 L464.24,22.70 L464.50,22.72 L464.76,22.75 L465.02,22.78 L465.27,22.81 L465.53,22.84 L465.79,22.87 L466.05,22.90 L466.31,22.93 L466.56,22.96 L466.82,22.99 L467.08,23.02 L467.34,23.06 L467.60,23.09 L467.86,23.12 L468.11,23.15 L468.37,23.19 L468.63,23.22 L468.89,23.25 L469.15,23.29 L469.40,23.32 L469.66,23.36 L469.92,23.40 L470.18,23.43 L470.44,23.47 L470.69,23.51 L470.95,23.54 L471.21,23.58 L471.47,23.62 L471.73,23.66 L471.98,23.70 L472.24,23.74 L472.50,23.78 L472.76,23.82 L473.02,23.86 L473.27,23.91 L473.53,23.95 L473.79,23.99 L474.05,24.03 L474.31,24.08 L474.56,24.12 L474.82,24.17 L475.08,24.21 L475.34,24.26 L475.60,24.31 L475.86,24.35 L476.11,24.40 L476.37,24.45 L476.63,24.50 L476.89,24.55 L477.15,24.60 L477.40,24.65 L477.66,24.70 L477.92,24.76 L478.18,24.81 L478.44,24.86 L478.69,24.92 L478.95,24.97 L479.21,25.03 L479.47,25.08 L479.73,25.14 L479.98,25.20 L480.24,25.26 L480.50,25.32 L480.76,25.38 L481.02,25.44 L481.27,25.50 L481.53,25.56 L481.79,25.62 L482.05,25.69 L482.31,25.75 L482.56,25.82 L482.82,25.88 L483.08,25.95 L483.34,26.02 L483.60,26.09 L483.86,26.16 L484.11,26.23 L484.37,26.30 L484.63,26.37 L484.89,26.44 L485.15,26.52 L485.40,26.59 L485.66,26.67 L485.92,26.75 L486.18,26.82 L486.44,26.90 L486.69,26.98 L486.95,27.06 L487.21,27.15 L487.47,27.23 L487.73,27.31 L487.98,27.40 L488.24,27.49 L488.50,27.57 L488.76,27.66 L489.02,27.75 L489.27,27.85 L489.53,27.94 L489.79,28.03 L490.05,28.13 L490.31,28.22 L490.56,28.32 L490.82,28.42 L491.08,28.52 L491.34,28.62 L491.60,28.73 L491.86,28.83 L492.11,28.94 L492.37,29.04 L492.63,29.15 L492.89,29.26 L493.15,29.38 L493.40,29.49 L493.66,29.61 L493.92,29.72 L494.18,29.84 L494.44,29.96 L494.69,30.08 L494.95,30.21 L495.21,30.33 L495.47,30.46 L495.73,30.59 L495.98,30.72 L496.24,30.85 L496.50,30.99 L496.76,31.13 L497.02,31.26 L497.27,31.41 L497.53,31.55 L497.79,31.69 L498.05,31.84 L498.31,31.99 L498.56,32.14 L498.82,32.30 L499.08,32.45 L499.34,32.61 L499.60,32.77 L499.86,32.94 L500.11,33.10 L500.37,33.27 L500.63,33.44 L500.89,33.61 L501.15,33.79 L501.40,33.97 L501.66,34.15 L501.92,34.34 L502.18,34.52 L502.44,34.72 L502.69,34.91 L502.95,35.11 L503.21,35.31 L503.47,35.51 L503.73,35.71 L503.98,35.92 L504.24,36.14 L504.50,36.35 L504.76,36.57 L505.02,36.80 L505.27,37.02 L505.53,37.25 L505.79,37.49 L506.05,37.73 L506.31,37.97 L506.56,38.22 L506.82,38.47 L507.08,38.72 L507.34,38.98 L507.60,39.24 L507.86,39.51 L508.11,39.78 L508.37,40.06 L508.63,40.34 L508.89,40.63 L509.15,40.92 L509.40,41.22 L509.66,41.52 L509.92,41.82 L510.18,42.14 L510.44,42.45 L510.69,42.78 L510.95,43.11 L511.21,43.44 L511.47,43.78 L511.73,44.13 L511.98,44.48 L512.24,44.84 L512.50,45.21 L512.76,45.58 L513.02,45.96 L513.27,46.34 L513.53,46.74 L513.79,47.14 L514.05,47.55 L514.31,47.96 L514.56,48.38 L514.82,48.81 L515.08,49.25 L515.34,49.70 L515.60,50.15 L515.86,50.62 L516.11,51.09 L516.37,51.57 L516.63,52.06 L516.89,52.56 L517.15,53.07 L517.40,53.59 L517.66,54.11 L517.92,54.65 L518.18,55.20 L518.44,55.76 L518.69,56.33 L518.95,56.91 L519.21,57.50 L519.47,58.11 L519.73,58.72 L519.98,59.35 L520.24,59.98 L520.50,60.64 L520.76,61.30 L521.02,61.98 L521.27,62.66 L521.53,63.37 L521.79,64.08 L522.05,64.81 L522.31,65.56 L522.56,66.31 L522.82,67.09 L523.08,67.87 L523.34,68.68 L523.60,69.49 L523.85,70.33 L524.11,71.18 L524.37,72.04 L524.63,72.92 L524.89,73.82 L525.15,74.73 L525.40,75.66 L525.66,76.61 L525.92,77.58 L526.18,78.56 L526.44,79.56 L526.69,80.58 L526.95,81.62 L527.21,82.67 L527.47,83.75 L527.73,84.84 L527.98,85.95 L528.24,87.08 L528.50,88.23 L528.76,89.39 L529.02,90.58 L529.27,91.78 L529.53,93.01 L529.79,94.25 L530.05,95.51 L530.31,96.78 L530.56,98.08 L530.82,99.39 L531.08,100.72 L531.34,102.06 L531.60,103.43 L531.85,104.81 L532.11,106.20 L532.37,107.61 L532.63,109.03 L532.89,110.46 L533.15,111.91 L533.40,113.37 L533.66,114.83 L533.92,116.31 L534.18,117.80 L534.44,119.29 L534.69,120.78 L534.95,122.28 L535.21,123.79 L535.47,125.29 L535.73,126.79 L535.98,128.29 L536.24,129.78 L536.50,131.26 L536.76,132.74 L537.02,134.20 L537.27,135.65 L537.53,137.08 L537.79,138.49 L538.05,139.88 L538.31,141.25 L538.56,142.59 L538.82,143.90 L539.08,145.18 L539.34,146.42 L539.60,147.62 L539.85,148.79 L540.11,149.91 L540.37,150.98 L540.63,152.00 L540.89,152.97 L541.15,153.89 L541.40,154.75 L541.66,155.55 L541.92,156.29 L542.18,156.97 L542.44,157.58 L542.69,158.12 L542.95,158.60 L543.21,159.00 L543.47,159.33 L543.73,159.59 L543.98,159.78 L544.24,159.89 L544.50,159.93" fill="none" stroke="#ff1c1c" stroke-dasharray="3 0.7 1 0.7" stroke-width="1.35" clip-path="url(#c2)"/><path d="M330.50,20.60 L544.50,20.60" fill="none" stroke="#000" stroke-width="1.6" clip-path="url(#c2)"/><path d="M38.50,387.30 L39.22,387.08 L39.94,386.85 L40.67,386.63 L41.39,386.41 L42.11,386.19 L42.83,385.96 L43.55,385.74 L44.28,385.52 L45.00,385.29 L45.72,385.07 L46.44,384.85 L47.16,384.63 L47.89,384.40 L48.61,384.18 L49.33,383.96 L50.05,383.73 L50.78,383.51 L51.50,383.28 L52.22,383.06 L52.94,382.84 L53.66,382.61 L54.39,382.39 L55.11,382.16 L55.83,381.94 L56.55,381.71 L57.27,381.49 L58.00,381.26 L58.72,381.04 L59.44,380.81 L60.16,380.58 L60.88,380.36 L61.61,380.13 L62.33,379.90 L63.05,379.68 L63.77,379.45 L64.49,379.22 L65.22,378.99 L65.94,378.77 L66.66,378.54 L67.38,378.31 L68.11,378.08 L68.83,377.85 L69.55,377.62 L70.27,377.39 L70.99,377.16 L71.72,376.93 L72.44,376.70 L73.16,376.47 L73.88,376.23 L74.60,376.00 L75.33,375.77 L76.05,375.53 L76.77,375.30 L77.49,375.07 L78.21,374.83 L78.94,374.60 L79.66,374.36 L80.38,374.12 L81.10,373.89 L81.82,373.65 L82.55,373.41 L83.27,373.18 L83.99,372.94 L84.71,372.70 L85.43,372.46 L86.16,372.22 L86.88,371.98 L87.60,371.74 L88.32,371.49 L89.05,371.25 L89.77,371.01 L90.49,370.76 L91.21,370.52 L91.93,370.27 L92.66,370.03 L93.38,369.78 L94.10,369.54 L94.82,369.29 L95.54,369.04 L96.27,368.79 L96.99,368.54 L97.71,368.29 L98.43,368.04 L99.15,367.79 L99.88,367.53 L100.60,367.28 L101.32,367.02 L102.04,366.77 L102.76,366.51 L103.49,366.26 L104.21,366.00 L104.93,365.74 L105.65,365.48 L106.37,365.22 L107.10,364.96 L107.82,364.70 L108.54,364.43 L109.26,364.17 L109.99,363.90 L110.71,363.64 L111.43,363.37 L112.15,363.10 L112.87,362.83 L113.60,362.56 L114.32,362.29 L115.04,362.02 L115.76,361.74 L116.48,361.47 L117.21,361.19 L117.93,360.92 L118.65,360.64 L119.37,360.36 L120.09,360.08 L120.82,359.80 L121.54,359.52 L122.26,359.23 L122.98,358.95 L123.70,358.66 L124.43,358.37 L125.15,358.08 L125.87,357.79 L126.59,357.50 L127.32,357.21 L128.04,356.91 L128.76,356.62 L129.48,356.32 L130.20,356.02 L130.93,355.72 L131.65,355.42 L132.37,355.12 L133.09,354.81 L133.81,354.51 L134.54,354.20 L135.26,353.89 L135.98,353.58 L136.70,353.27 L137.42,352.95 L138.15,352.64 L138.87,352.32 L139.59,352.00 L140.31,351.68 L141.03,351.35 L141.76,351.03 L142.48,350.70 L143.20,350.37 L143.92,350.04 L144.64,349.71 L145.37,349.37 L146.09,349.04 L146.81,348.70 L147.53,348.36 L148.26,348.02 L148.98,347.67 L149.70,347.32 L150.42,346.97 L151.14,346.62 L151.87,346.27 L152.59,345.91 L153.31,345.56 L154.03,345.19 L154.75,344.83 L155.48,344.47 L156.20,344.10 L156.92,343.73 L157.64,343.36 L158.36,342.98 L159.09,342.60 L159.81,342.22 L160.53,341.84 L161.25,341.45 L161.97,341.06 L162.70,340.67 L163.42,340.27 L164.14,339.88 L164.86,339.48 L165.58,339.07 L166.31,338.67 L167.03,338.26 L167.75,337.84 L168.47,337.43 L169.20,337.01 L169.92,336.58 L170.64,336.16 L171.36,335.73 L172.08,335.30 L172.81,334.86 L173.53,334.42 L174.25,333.97 L174.97,333.53 L175.69,333.07 L176.42,332.62 L177.14,332.16 L177.86,331.70 L178.58,331.23 L179.30,330.76 L180.03,330.28 L180.75,329.80 L181.47,329.32 L182.19,328.83 L182.91,328.34 L183.64,327.84 L184.36,327.34 L185.08,326.83 L185.80,326.32 L186.53,325.80 L187.25,325.28 L187.97,324.75 L188.69,324.22 L189.41,323.68 L190.14,323.14 L190.86,322.59 L191.58,322.03 L192.30,321.47 L193.02,320.91 L193.75,320.34 L194.47,319.76 L195.19,319.18 L195.91,318.59 L196.63,317.99 L197.36,317.39 L198.08,316.78 L198.80,316.16 L199.52,315.54 L200.24,314.91 L200.97,314.27 L201.69,313.62 L202.41,312.97 L203.13,312.31 L203.85,311.64 L204.58,310.97 L205.30,310.28 L206.02,309.59 L206.74,308.89 L207.47,308.18 L208.19,307.46 L208.91,306.73 L209.63,306.00 L210.35,305.25 L211.08,304.49 L211.80,303.73 L212.52,302.95 L213.24,302.17 L213.96,301.37 L214.69,300.56 L215.41,299.74 L216.13,298.91 L216.85,298.07 L217.57,297.22 L218.30,296.35 L219.02,295.47 L219.74,294.58 L220.46,293.68 L221.18,292.76 L221.91,291.83 L222.63,290.89 L223.35,289.93 L224.07,288.95 L224.79,287.96 L225.52,286.96 L226.24,285.94 L226.96,284.90 L227.68,283.84 L228.41,282.77 L229.13,281.68 L229.85,280.58 L230.57,279.45 L231.29,278.31 L232.02,277.14 L232.74,275.96 L233.46,274.75 L234.18,273.52 L234.90,272.27 L235.63,271.00 L236.35,269.70 L237.07,268.38 L237.79,267.04 L238.51,265.67 L239.24,264.27 L239.96,262.84 L240.68,261.39 L241.40,259.91 L242.12,258.40 L242.85,256.86 L243.57,255.28 L244.29,253.68 L245.01,252.03 L245.74,250.36 L246.46,248.64 L247.18,246.89 L247.90,245.10 L248.62,243.27 L249.35,241.40 L250.07,239.49 L250.79,237.53 L251.51,235.52 L252.23,233.47 L252.96,231.36 L253.68,229.20 L254.40,226.99" fill="none" stroke="#3434ff" stroke-dasharray="1.2 0.45" stroke-width="1.35" clip-path="url(#c3)"/><path d="M38.50,387.30 L39.22,387.08 L39.94,386.85 L40.67,386.63 L41.39,386.41 L42.11,386.19 L42.83,385.96 L43.55,385.74 L44.28,385.52 L45.00,385.30 L45.72,385.07 L46.44,384.85 L47.16,384.63 L47.89,384.41 L48.61,384.18 L49.33,383.96 L50.05,383.74 L50.78,383.51 L51.50,383.29 L52.22,383.07 L52.94,382.85 L53.66,382.62 L54.39,382.40 L55.11,382.18 L55.83,381.96 L56.55,381.73 L57.27,381.51 L58.00,381.29 L58.72,381.06 L59.44,380.84 L60.16,380.62 L60.88,380.40 L61.61,380.17 L62.33,379.95 L63.05,379.73 L63.77,379.51 L64.49,379.28 L65.22,379.06 L65.94,378.84 L66.66,378.61 L67.38,378.39 L68.11,378.17 L68.83,377.94 L69.55,377.72 L70.27,377.50 L70.99,377.28 L71.72,377.05 L72.44,376.83 L73.16,376.61 L73.88,376.38 L74.60,376.16 L75.33,375.94 L76.05,375.71 L76.77,375.49 L77.49,375.27 L78.21,375.04 L78.94,374.82 L79.66,374.60 L80.38,374.37 L81.10,374.15 L81.82,373.93 L82.55,373.70 L83.27,373.48 L83.99,373.25 L84.71,373.03 L85.43,372.81 L86.16,372.58 L86.88,372.36 L87.60,372.13 L88.32,371.91 L89.05,371.68 L89.77,371.46 L90.49,371.23 L91.21,371.01 L91.93,370.78 L92.66,370.56 L93.38,370.33 L94.10,370.11 L94.82,369.88 L95.54,369.66 L96.27,369.43 L96.99,369.21 L97.71,368.98 L98.43,368.75 L99.15,368.53 L99.88,368.30 L100.60,368.07 L101.32,367.84 L102.04,367.62 L102.76,367.39 L103.49,367.16 L104.21,366.93 L104.93,366.71 L105.65,366.48 L106.37,366.25 L107.10,366.02 L107.82,365.79 L108.54,365.56 L109.26,365.33 L109.99,365.10 L110.71,364.87 L111.43,364.64 L112.15,364.41 L112.87,364.18 L113.60,363.94 L114.32,363.71 L115.04,363.48 L115.76,363.25 L116.48,363.01 L117.21,362.78 L117.93,362.54 L118.65,362.31 L119.37,362.07 L120.09,361.84 L120.82,361.60 L121.54,361.37 L122.26,361.13 L122.98,360.89 L123.70,360.65 L124.43,360.41 L125.15,360.18 L125.87,359.94 L126.59,359.70 L127.32,359.45 L128.04,359.21 L128.76,358.97 L129.48,358.73 L130.20,358.49 L130.93,358.24 L131.65,358.00 L132.37,357.75 L133.09,357.51 L133.81,357.26 L134.54,357.01 L135.26,356.76 L135.98,356.51 L136.70,356.26 L137.42,356.01 L138.15,355.76 L138.87,355.51 L139.59,355.26 L140.31,355.00 L141.03,354.75 L141.76,354.49 L142.48,354.24 L143.20,353.98 L143.92,353.72 L144.64,353.46 L145.37,353.20 L146.09,352.94 L146.81,352.67 L147.53,352.41 L148.26,352.14 L148.98,351.88 L149.70,351.61 L150.42,351.34 L151.14,351.07 L151.87,350.80 L152.59,350.53 L153.31,350.25 L154.03,349.98 L154.75,349.70 L155.48,349.42 L156.20,349.14 L156.92,348.86 L157.64,348.58 L158.36,348.30 L159.09,348.01 L159.81,347.73 L160.53,347.44 L161.25,347.15 L161.97,346.85 L162.70,346.56 L163.42,346.27 L164.14,345.97 L164.86,345.67 L165.58,345.37 L166.31,345.07 L167.03,344.76 L167.75,344.45 L168.47,344.15 L169.20,343.84 L169.92,343.52 L170.64,343.21 L171.36,342.89 L172.08,342.57 L172.81,342.25 L173.53,341.93 L174.25,341.60 L174.97,341.27 L175.69,340.94 L176.42,340.61 L177.14,340.27 L177.86,339.93 L178.58,339.59 L179.30,339.24 L180.03,338.90 L180.75,338.55 L181.47,338.19 L182.19,337.84 L182.91,337.48 L183.64,337.12 L184.36,336.75 L185.08,336.38 L185.80,336.01 L186.53,335.64 L187.25,335.26 L187.97,334.88 L188.69,334.49 L189.41,334.10 L190.14,333.71 L190.86,333.31 L191.58,332.91 L192.30,332.51 L193.02,332.10 L193.75,331.69 L194.47,331.27 L195.19,330.85 L195.91,330.43 L196.63,330.00 L197.36,329.56 L198.08,329.12 L198.80,328.68 L199.52,328.23 L200.24,327.78 L200.97,327.32 L201.69,326.86 L202.41,326.39 L203.13,325.91 L203.85,325.43 L204.58,324.94 L205.30,324.45 L206.02,323.96 L206.74,323.45 L207.47,322.94 L208.19,322.43 L208.91,321.90 L209.63,321.37 L210.35,320.84 L211.08,320.29 L211.80,319.74 L212.52,319.18 L213.24,318.62 L213.96,318.05 L214.69,317.47 L215.41,316.88 L216.13,316.28 L216.85,315.67 L217.57,315.06 L218.30,314.44 L219.02,313.80 L219.74,313.16 L220.46,312.51 L221.18,311.85 L221.91,311.18 L222.63,310.50 L223.35,309.81 L224.07,309.11 L224.79,308.39 L225.52,307.67 L226.24,306.93 L226.96,306.18 L227.68,305.42 L228.41,304.65 L229.13,303.86 L229.85,303.06 L230.57,302.24 L231.29,301.41 L232.02,300.57 L232.74,299.71 L233.46,298.84 L234.18,297.95 L234.90,297.04 L235.63,296.12 L236.35,295.18 L237.07,294.22 L237.79,293.25 L238.51,292.25 L239.24,291.24 L239.96,290.20 L240.68,289.14 L241.40,288.07 L242.12,286.97 L242.85,285.84 L243.57,284.70 L244.29,283.52 L245.01,282.33 L245.74,281.10 L246.46,279.85 L247.18,278.58 L247.90,277.27 L248.62,275.93 L249.35,274.56 L250.07,273.16 L250.79,271.73 L251.51,270.26 L252.23,268.75 L252.96,267.21 L253.68,265.63 L254.40,264.00" fill="none" stroke="#0c860c" stroke-dasharray="2.8 0.9" stroke-width="1.35" clip-path="url(#c3)"/><path d="M38.50,387.30 L39.22,387.08 L39.94,386.85 L40.67,386.63 L41.39,386.41 L42.11,386.19 L42.83,385.96 L43.55,385.74 L44.28,385.52 L45.00,385.30 L45.72,385.07 L46.44,384.85 L47.16,384.63 L47.89,384.41 L48.61,384.18 L49.33,383.96 L50.05,383.74 L50.78,383.51 L51.50,383.29 L52.22,383.07 L52.94,382.85 L53.66,382.62 L54.39,382.40 L55.11,382.18 L55.83,381.96 L56.55,381.73 L57.27,381.51 L58.00,381.29 L58.72,381.06 L59.44,380.84 L60.16,380.62 L60.88,380.40 L61.61,380.17 L62.33,379.95 L63.05,379.73 L63.77,379.51 L64.49,379.28 L65.22,379.06 L65.94,378.84 L66.66,378.62 L67.38,378.39 L68.11,378.17 L68.83,377.95 L69.55,377.72 L70.27,377.50 L70.99,377.28 L71.72,377.06 L72.44,376.83 L73.16,376.61 L73.88,376.39 L74.60,376.17 L75.33,375.94 L76.05,375.72 L76.77,375.50 L77.49,375.27 L78.21,375.05 L78.94,374.83 L79.66,374.61 L80.38,374.38 L81.10,374.16 L81.82,373.94 L82.55,373.72 L83.27,373.49 L83.99,373.27 L84.71,373.05 L85.43,372.82 L86.16,372.60 L86.88,372.38 L87.60,372.16 L88.32,371.93 L89.05,371.71 L89.77,371.49 L90.49,371.26 L91.21,371.04 L91.93,370.82 L92.66,370.60 L93.38,370.37 L94.10,370.15 L94.82,369.93 L95.54,369.70 L96.27,369.48 L96.99,369.26 L97.71,369.03 L98.43,368.81 L99.15,368.59 L99.88,368.36 L100.60,368.14 L101.32,367.92 L102.04,367.69 L102.76,367.47 L103.49,367.25 L104.21,367.02 L104.93,366.80 L105.65,366.58 L106.37,366.35 L107.10,366.13 L107.82,365.91 L108.54,365.68 L109.26,365.46 L109.99,365.23 L110.71,365.01 L111.43,364.78 L112.15,364.56 L112.87,364.34 L113.60,364.11 L114.32,363.89 L115.04,363.66 L115.76,363.44 L116.48,363.21 L117.21,362.99 L117.93,362.76 L118.65,362.54 L119.37,362.31 L120.09,362.09 L120.82,361.86 L121.54,361.63 L122.26,361.41 L122.98,361.18 L123.70,360.95 L124.43,360.73 L125.15,360.50 L125.87,360.27 L126.59,360.05 L127.32,359.82 L128.04,359.59 L128.76,359.36 L129.48,359.13 L130.20,358.91 L130.93,358.68 L131.65,358.45 L132.37,358.22 L133.09,357.99 L133.81,357.76 L134.54,357.53 L135.26,357.30 L135.98,357.07 L136.70,356.84 L137.42,356.60 L138.15,356.37 L138.87,356.14 L139.59,355.91 L140.31,355.67 L141.03,355.44 L141.76,355.20 L142.48,354.97 L143.20,354.73 L143.92,354.50 L144.64,354.26 L145.37,354.03 L146.09,353.79 L146.81,353.55 L147.53,353.31 L148.26,353.07 L148.98,352.83 L149.70,352.59 L150.42,352.35 L151.14,352.11 L151.87,351.87 L152.59,351.63 L153.31,351.38 L154.03,351.14 L154.75,350.89 L155.48,350.65 L156.20,350.40 L156.92,350.15 L157.64,349.90 L158.36,349.65 L159.09,349.40 L159.81,349.15 L160.53,348.90 L161.25,348.65 L161.97,348.39 L162.70,348.14 L163.42,347.88 L164.14,347.62 L164.86,347.36 L165.58,347.10 L166.31,346.84 L167.03,346.58 L167.75,346.32 L168.47,346.05 L169.20,345.78 L169.92,345.52 L170.64,345.25 L171.36,344.98 L172.08,344.70 L172.81,344.43 L173.53,344.16 L174.25,343.88 L174.97,343.60 L175.69,343.32 L176.42,343.04 L177.14,342.75 L177.86,342.47 L178.58,342.18 L179.30,341.89 L180.03,341.60 L180.75,341.31 L181.47,341.01 L182.19,340.72 L182.91,340.42 L183.64,340.11 L184.36,339.81 L185.08,339.50 L185.80,339.20 L186.53,338.88 L187.25,338.57 L187.97,338.25 L188.69,337.94 L189.41,337.61 L190.14,337.29 L190.86,336.96 L191.58,336.63 L192.30,336.30 L193.02,335.96 L193.75,335.62 L194.47,335.28 L195.19,334.94 L195.91,334.59 L196.63,334.24 L197.36,333.88 L198.08,333.52 L198.80,333.16 L199.52,332.79 L200.24,332.42 L200.97,332.05 L201.69,331.67 L202.41,331.28 L203.13,330.90 L203.85,330.51 L204.58,330.11 L205.30,329.71 L206.02,329.30 L206.74,328.89 L207.47,328.48 L208.19,328.06 L208.91,327.63 L209.63,327.20 L210.35,326.77 L211.08,326.33 L211.80,325.88 L212.52,325.43 L213.24,324.97 L213.96,324.50 L214.69,324.03 L215.41,323.55 L216.13,323.07 L216.85,322.58 L217.57,322.08 L218.30,321.57 L219.02,321.06 L219.74,320.54 L220.46,320.01 L221.18,319.47 L221.91,318.93 L222.63,318.38 L223.35,317.82 L224.07,317.24 L224.79,316.66 L225.52,316.08 L226.24,315.48 L226.96,314.87 L227.68,314.25 L228.41,313.62 L229.13,312.98 L229.85,312.33 L230.57,311.67 L231.29,310.99 L232.02,310.31 L232.74,309.61 L233.46,308.89 L234.18,308.17 L234.90,307.43 L235.63,306.68 L236.35,305.91 L237.07,305.13 L237.79,304.33 L238.51,303.52 L239.24,302.69 L239.96,301.84 L240.68,300.98 L241.40,300.10 L242.12,299.20 L242.85,298.28 L243.57,297.34 L244.29,296.38 L245.01,295.39 L245.74,294.39 L246.46,293.37 L247.18,292.32 L247.90,291.24 L248.62,290.14 L249.35,289.02 L250.07,287.86 L250.79,286.68 L251.51,285.47 L252.23,284.23 L252.96,282.96 L253.68,281.65 L254.40,280.32" fill="none" stroke="#ff1c1c" stroke-dasharray="3 0.7 1 0.7" stroke-width="1.35" clip-path="url(#c3)"/><path d="M38.50,387.30 L254.40,320.72" fill="none" stroke="#000" stroke-width="1.45" clip-path="url(#c3)"/><path d="M331.40,338.10 L332.44,337.73 L333.48,338.44 L334.52,339.20 L335.56,338.66 L336.60,339.33 L337.64,338.02 L338.68,336.42 L339.72,338.72 L340.76,338.88 L341.80,337.48 L342.84,337.64 L343.88,337.97 L344.92,339.30 L345.96,338.14 L347.00,337.20 L348.04,339.85 L349.08,338.70 L350.12,340.59 L351.16,339.80 L352.20,340.53 L353.24,338.41 L354.28,339.79 L355.32,337.74 L356.36,337.89 L357.40,338.35 L358.44,341.50 L359.48,338.83 L360.52,338.17 L361.56,337.95 L362.60,340.20 L363.64,338.76 L364.68,339.45 L365.72,339.22 L366.76,336.62 L367.80,339.23 L368.84,338.15 L369.88,336.86 L370.92,338.92 L371.96,338.26 L373.00,337.94 L374.04,338.01 L375.08,339.90 L376.12,337.99 L377.16,336.03 L378.20,340.50 L379.24,336.75 L380.28,337.91 L381.32,339.14 L382.36,334.80 L383.40,336.82 L384.44,340.14 L385.48,337.97 L386.52,337.09 L387.56,338.44 L388.60,336.87 L389.64,338.22 L390.68,336.86 L391.72,335.40 L392.76,339.39 L393.80,337.71 L394.84,339.01 L395.88,337.85 L396.92,340.48 L397.96,339.28 L399.00,338.50 L400.04,336.23 L401.08,335.69 L402.12,340.92 L403.16,343.50 L404.20,336.69 L405.24,342.50 L406.28,339.14 L407.32,338.32 L408.36,335.23 L409.40,336.51 L410.44,338.86 L411.48,338.97 L412.52,338.70 L413.56,334.42 L414.60,339.14 L415.64,342.40 L416.68,337.21 L417.72,338.41 L418.76,338.61 L419.80,341.04 L420.84,338.13 L421.88,339.31 L422.92,334.88 L423.96,333.30 L425.00,338.17 L426.04,336.17 L427.08,339.09 L428.12,332.80 L429.16,338.12 L430.20,336.32 L431.24,342.09 L432.28,337.02 L433.32,343.45 L434.36,344.63 L435.40,339.09 L436.44,341.06 L437.48,337.55 L438.52,330.53 L439.56,340.94 L440.60,340.26 L441.64,337.38 L442.68,343.60 L443.72,338.73 L444.76,338.84 L445.80,335.53 L446.84,336.18 L447.88,341.96 L448.92,338.40 L449.96,332.10 L451.00,342.17 L452.04,337.09 L453.08,341.48 L454.12,340.90 L455.16,337.32 L456.20,337.74 L457.24,332.80 L458.28,338.59 L459.32,346.46 L460.36,342.88 L461.40,336.55 L462.44,347.27 L463.48,334.42 L464.52,345.76 L465.56,334.75 L466.60,341.88 L467.64,334.59 L468.68,337.50 L469.72,345.16 L470.76,332.31 L471.80,350.40 L472.84,338.41 L473.88,339.40 L474.92,338.87 L475.96,342.82 L477.00,332.74 L478.04,340.77 L479.08,338.35 L480.12,342.07 L481.16,345.70 L482.20,344.59 L483.24,331.66 L484.28,338.90 L485.32,333.08 L486.36,338.03 L487.40,341.77 L488.44,339.84 L489.48,341.11 L490.52,338.06 L491.56,340.14 L492.60,339.75 L493.64,345.72 L494.68,342.59 L495.72,328.40 L496.76,341.89 L497.80,344.10 L498.84,336.17 L499.88,329.98 L500.92,346.55 L501.96,339.32 L503.00,341.82 L504.04,357.70 L505.08,333.71 L506.12,338.24 L507.16,337.67 L508.20,342.69 L509.24,335.31 L510.28,317.10 L511.32,338.99 L512.36,345.04 L513.40,345.76 L514.44,329.63 L515.48,341.34 L516.52,336.23 L517.56,338.32 L518.60,340.97 L519.64,341.42 L520.68,333.95 L521.72,363.40 L522.76,339.11 L523.80,337.95 L524.84,330.16 L525.88,333.48 L526.92,335.49 L527.96,378.00 L529.00,347.65 L530.04,323.90 L531.08,331.34 L532.12,339.09 L533.16,334.27 L534.20,332.54 L535.24,332.15 L536.28,331.47 L537.32,341.40 L538.36,327.08 L539.40,347.22" fill="none" stroke="#3434ff" stroke-dasharray="1.2 0.45" stroke-width="1.35" clip-path="url(#c4)"/><path d="M331.40,337.05 L332.44,337.50 L333.48,337.03 L334.52,335.78 L335.56,336.26 L336.60,339.53 L337.64,340.21 L338.68,337.08 L339.72,339.38 L340.76,338.12 L341.80,337.03 L342.84,340.20 L343.88,340.80 L344.92,337.77 L345.96,338.04 L347.00,338.42 L348.04,338.05 L349.08,339.22 L350.12,340.08 L351.16,338.32 L352.20,339.38 L353.24,340.28 L354.28,337.43 L355.32,338.18 L356.36,337.55 L357.40,339.43 L358.44,338.99 L359.48,339.46 L360.52,339.31 L361.56,337.83 L362.60,339.17 L363.64,337.61 L364.68,337.63 L365.72,335.29 L366.76,340.04 L367.80,336.86 L368.84,338.23 L369.88,338.12 L370.92,340.15 L371.96,338.75 L373.00,337.04 L374.04,338.22 L375.08,337.98 L376.12,338.54 L377.16,336.34 L378.20,338.13 L379.24,341.57 L380.28,339.21 L381.32,341.30 L382.36,343.47 L383.40,338.99 L384.44,335.83 L385.48,338.02 L386.52,340.16 L387.56,339.77 L388.60,336.06 L389.64,337.81 L390.68,338.01 L391.72,338.20 L392.76,333.80 L393.80,336.55 L394.84,337.02 L395.88,337.67 L396.92,340.19 L397.96,337.06 L399.00,339.51 L400.04,335.82 L401.08,340.78 L402.12,338.39 L403.16,338.12 L404.20,343.50 L405.24,334.29 L406.28,334.84 L407.32,339.15 L408.36,336.34 L409.40,337.22 L410.44,344.21 L411.48,337.51 L412.52,338.25 L413.56,337.90 L414.60,340.73 L415.64,338.77 L416.68,338.55 L417.72,333.30 L418.76,337.23 L419.80,338.11 L420.84,334.00 L421.88,339.61 L422.92,339.18 L423.96,332.80 L425.00,333.64 L426.04,335.32 L427.08,335.42 L428.12,342.40 L429.16,337.77 L430.20,337.44 L431.24,338.88 L432.28,338.74 L433.32,337.93 L434.36,333.25 L435.40,336.29 L436.44,338.29 L437.48,348.00 L438.52,340.24 L439.56,332.63 L440.60,336.35 L441.64,328.70 L442.68,339.32 L443.72,342.07 L444.76,338.34 L445.80,334.90 L446.84,339.55 L447.88,329.40 L448.92,338.94 L449.96,337.68 L451.00,344.25 L452.04,339.02 L453.08,341.47 L454.12,334.58 L455.16,341.20 L456.20,335.75 L457.24,347.70 L458.28,339.40 L459.32,340.62 L460.36,337.29 L461.40,338.11 L462.44,342.38 L463.48,336.10 L464.52,329.25 L465.56,342.30 L466.60,339.01 L467.64,328.00 L468.68,336.65 L469.72,343.83 L470.76,343.23 L471.80,332.12 L472.84,342.37 L473.88,332.96 L474.92,330.79 L475.96,336.85 L477.00,335.40 L478.04,330.00 L479.08,339.08 L480.12,341.06 L481.16,344.92 L482.20,337.89 L483.24,330.53 L484.28,333.15 L485.32,343.00 L486.36,342.58 L487.40,349.70 L488.44,336.54 L489.48,339.20 L490.52,325.00 L491.56,336.48 L492.60,339.74 L493.64,338.32 L494.68,336.95 L495.72,338.57 L496.76,335.26 L497.80,327.46 L498.84,334.71 L499.88,337.78 L500.92,347.90 L501.96,335.83 L503.00,322.70 L504.04,346.46 L505.08,332.99 L506.12,333.85 L507.16,339.01 L508.20,348.52 L509.24,340.38 L510.28,342.29 L511.32,334.14 L512.36,323.97 L513.40,336.73 L514.44,343.04 L515.48,345.57 L516.52,338.46 L517.56,328.40 L518.60,345.59 L519.64,337.34 L520.68,355.50 L521.72,330.73 L522.76,318.20 L523.80,330.83 L524.84,341.30 L525.88,334.61 L526.92,339.00 L527.96,340.77 L529.00,340.44 L530.04,347.13 L531.08,348.19 L532.12,332.52 L533.16,383.70 L534.20,336.56 L535.24,330.94 L536.28,350.57 L537.32,343.77 L538.36,364.50 L539.40,335.23" fill="none" stroke="#0c860c" stroke-dasharray="2.8 0.9" stroke-width="1.35" clip-path="url(#c4)"/><path d="M331.40,338.56 L332.44,336.84 L333.48,337.84 L334.52,339.60 L335.56,339.25 L336.60,337.10 L337.64,337.52 L338.68,340.48 L339.72,336.40 L340.76,337.34 L341.80,336.39 L342.84,338.59 L343.88,338.48 L344.92,339.55 L345.96,334.83 L347.00,338.33 L348.04,336.04 L349.08,338.95 L350.12,337.89 L351.16,340.30 L352.20,338.61 L353.24,336.80 L354.28,339.77 L355.32,336.67 L356.36,337.65 L357.40,339.51 L358.44,338.78 L359.48,338.72 L360.52,338.17 L361.56,338.83 L362.60,339.23 L363.64,338.52 L364.68,339.52 L365.72,339.89 L366.76,338.17 L367.80,336.87 L368.84,340.24 L369.88,338.10 L370.92,339.02 L371.96,339.48 L373.00,336.89 L374.04,338.85 L375.08,335.89 L376.12,339.27 L377.16,337.51 L378.20,338.45 L379.24,339.29 L380.28,337.16 L381.32,338.35 L382.36,337.10 L383.40,338.18 L384.44,339.95 L385.48,338.28 L386.52,338.01 L387.56,336.40 L388.60,339.73 L389.64,338.17 L390.68,341.29 L391.72,336.88 L392.76,340.16 L393.80,341.59 L394.84,338.22 L395.88,335.91 L396.92,345.50 L397.96,332.80 L399.00,339.63 L400.04,340.45 L401.08,337.30 L402.12,339.82 L403.16,339.66 L404.20,344.00 L405.24,339.77 L406.28,337.13 L407.32,340.30 L408.36,340.87 L409.40,342.34 L410.44,334.30 L411.48,338.86 L412.52,342.00 L413.56,338.17 L414.60,337.71 L415.64,337.98 L416.68,333.29 L417.72,333.30 L418.76,342.15 L419.80,349.60 L420.84,341.68 L421.88,336.07 L422.92,335.83 L423.96,340.80 L425.00,342.06 L426.04,342.40 L427.08,334.03 L428.12,346.46 L429.16,336.52 L430.20,341.38 L431.24,334.89 L432.28,345.50 L433.32,339.00 L434.36,324.10 L435.40,341.28 L436.44,333.54 L437.48,335.37 L438.52,339.45 L439.56,341.07 L440.60,344.64 L441.64,339.48 L442.68,338.21 L443.72,338.40 L444.76,330.70 L445.80,342.20 L446.84,338.35 L447.88,338.24 L448.92,333.22 L449.96,330.97 L451.00,338.63 L452.04,351.70 L453.08,338.36 L454.12,340.52 L455.16,341.09 L456.20,338.34 L457.24,342.38 L458.28,335.59 L459.32,338.53 L460.36,337.04 L461.40,338.88 L462.44,341.23 L463.48,332.10 L464.52,339.14 L465.56,340.53 L466.60,337.05 L467.64,338.12 L468.68,344.30 L469.72,345.70 L470.76,344.32 L471.80,340.98 L472.84,339.49 L473.88,347.97 L474.92,337.66 L475.96,337.37 L477.00,338.87 L478.04,340.19 L479.08,339.95 L480.12,342.98 L481.16,339.46 L482.20,340.91 L483.24,337.63 L484.28,344.31 L485.32,320.60 L486.36,337.35 L487.40,338.85 L488.44,340.44 L489.48,335.14 L490.52,347.10 L491.56,355.50 L492.60,336.77 L493.64,336.53 L494.68,335.97 L495.72,341.77 L496.76,356.60 L497.80,334.48 L498.84,335.63 L499.88,336.91 L500.92,346.90 L501.96,334.95 L503.00,331.21 L504.04,332.11 L505.08,336.70 L506.12,347.47 L507.16,332.39 L508.20,339.00 L509.24,353.64 L510.28,327.20 L511.32,360.00 L512.36,346.21 L513.40,342.10 L514.44,330.03 L515.48,340.47 L516.52,336.36 L517.56,326.81 L518.60,327.73 L519.64,338.78 L520.68,339.69 L521.72,346.45 L522.76,342.73 L523.80,346.40 L524.84,335.43 L525.88,337.35 L526.92,331.31 L527.96,343.40 L529.00,338.49 L530.04,333.02 L531.08,334.02 L532.12,300.20 L533.16,335.29 L534.20,357.70 L535.24,335.51 L536.28,345.31 L537.32,321.60 L538.36,333.88 L539.40,338.50" fill="none" stroke="#ff1c1c" stroke-dasharray="3 0.7 1 0.7" stroke-width="1.35" clip-path="url(#c4)"/><path d="M331.40,338.10 L539.40,338.10" fill="none" stroke="#000" stroke-width="1.25" clip-path="url(#c4)"/></g>
<g><rect x="39" y="5" width="215" height="1" fill="#a0a0a0"/><rect x="39" y="163" width="215" height="1" fill="#d0d0d0"/><rect x="39" y="5" width="1" height="159" fill="#d8d8d8"/><rect x="253" y="5" width="1" height="159" fill="#d8d8d8"/><rect x="39" y="161" width="1" height="2" fill="#c0c0c0"/><rect x="39" y="6" width="1" height="2" fill="#c0c0c0"/><rect x="107" y="161" width="1" height="2" fill="#c0c0c0"/><rect x="107" y="6" width="1" height="2" fill="#c0c0c0"/><rect x="175" y="161" width="1" height="2" fill="#c0c0c0"/><rect x="175" y="6" width="1" height="2" fill="#c0c0c0"/><rect x="243" y="161" width="1" height="2" fill="#c0c0c0"/><rect x="243" y="6" width="1" height="2" fill="#c0c0c0"/><rect x="40" y="163" width="2" height="1" fill="#c0c0c0"/><rect x="251" y="163" width="2" height="1" fill="#c0c0c0"/><rect x="40" y="134" width="2" height="1" fill="#c0c0c0"/><rect x="251" y="134" width="2" height="1" fill="#c0c0c0"/><rect x="40" y="104" width="2" height="1" fill="#c0c0c0"/><rect x="251" y="104" width="2" height="1" fill="#c0c0c0"/><rect x="40" y="75" width="2" height="1" fill="#c0c0c0"/><rect x="251" y="75" width="2" height="1" fill="#c0c0c0"/><rect x="40" y="46" width="2" height="1" fill="#c0c0c0"/><rect x="251" y="46" width="2" height="1" fill="#c0c0c0"/><rect x="40" y="17" width="2" height="1" fill="#c0c0c0"/><rect x="251" y="17" width="2" height="1" fill="#c0c0c0"/><rect x="330" y="6" width="215" height="1" fill="#d8d8d8"/><rect x="330" y="161" width="215" height="1" fill="#a0a0a0"/><rect x="330" y="6" width="1" height="156" fill="#d8d8d8"/><rect x="544" y="6" width="1" height="156" fill="#a8a8a8"/><rect x="330" y="159" width="1" height="2" fill="#c0c0c0"/><rect x="330" y="7" width="1" height="2" fill="#c0c0c0"/><rect x="398" y="159" width="1" height="2" fill="#c0c0c0"/><rect x="398" y="7" width="1" height="2" fill="#c0c0c0"/><rect x="466" y="159" width="1" height="2" fill="#c0c0c0"/><rect x="466" y="7" width="1" height="2" fill="#c0c0c0"/><rect x="534" y="159" width="1" height="2" fill="#c0c0c0"/><rect x="534" y="7" width="1" height="2" fill="#c0c0c0"/><rect x="331" y="20" width="2" height="1" fill="#c0c0c0"/><rect x="542" y="20" width="2" height="1" fill="#c0c0c0"/><rect x="331" y="48" width="2" height="1" fill="#c0c0c0"/><rect x="542" y="48" width="2" height="1" fill="#c0c0c0"/><rect x="331" y="76" width="2" height="1" fill="#c0c0c0"/><rect x="542" y="76" width="2" height="1" fill="#c0c0c0"/><rect x="331" y="105" width="2" height="1" fill="#c0c0c0"/><rect x="542" y="105" width="2" height="1" fill="#c0c0c0"/><rect x="331" y="133" width="2" height="1" fill="#c0c0c0"/><rect x="542" y="133" width="2" height="1" fill="#c0c0c0"/><rect x="331" y="161" width="2" height="1" fill="#c0c0c0"/><rect x="542" y="161" width="2" height="1" fill="#c0c0c0"/><rect x="38" y="227" width="217" height="1" fill="#a0a0a0"/><rect x="38" y="387" width="217" height="1" fill="#a8a8a8"/><rect x="38" y="227" width="1" height="161" fill="#d8d8d8"/><rect x="254" y="227" width="1" height="161" fill="#c8c8c8"/><rect x="38" y="385" width="1" height="2" fill="#c0c0c0"/><rect x="38" y="228" width="1" height="2" fill="#c0c0c0"/><rect x="124" y="385" width="1" height="2" fill="#c0c0c0"/><rect x="124" y="228" width="1" height="2" fill="#c0c0c0"/><rect x="211" y="385" width="1" height="2" fill="#c0c0c0"/><rect x="211" y="228" width="1" height="2" fill="#c0c0c0"/><rect x="39" y="387" width="2" height="1" fill="#c0c0c0"/><rect x="252" y="387" width="2" height="1" fill="#c0c0c0"/><rect x="39" y="334" width="2" height="1" fill="#c0c0c0"/><rect x="252" y="334" width="2" height="1" fill="#c0c0c0"/><rect x="39" y="280" width="2" height="1" fill="#c0c0c0"/><rect x="252" y="280" width="2" height="1" fill="#c0c0c0"/><rect x="39" y="227" width="2" height="1" fill="#c0c0c0"/><rect x="252" y="227" width="2" height="1" fill="#c0c0c0"/><rect x="331" y="236" width="209" height="1" fill="#d0d0d0"/><rect x="331" y="389" width="209" height="1" fill="#c8c8c8"/><rect x="331" y="236" width="1" height="154" fill="#d8d8d8"/><rect x="539" y="236" width="1" height="154" fill="#a8a8a8"/><rect x="331" y="387" width="1" height="2" fill="#c0c0c0"/><rect x="331" y="237" width="1" height="2" fill="#c0c0c0"/><rect x="414" y="387" width="1" height="2" fill="#c0c0c0"/><rect x="414" y="237" width="1" height="2" fill="#c0c0c0"/><rect x="497" y="387" width="1" height="2" fill="#c0c0c0"/><rect x="497" y="237" width="1" height="2" fill="#c0c0c0"/><rect x="332" y="388" width="2" height="1" fill="#c0c0c0"/><rect x="537" y="388" width="2" height="1" fill="#c0c0c0"/><rect x="332" y="338" width="2" height="1" fill="#c0c0c0"/><rect x="537" y="338" width="2" height="1" fill="#c0c0c0"/><rect x="332" y="287" width="2" height="1" fill="#c0c0c0"/><rect x="537" y="287" width="2" height="1" fill="#c0c0c0"/><rect x="332" y="236" width="2" height="1" fill="#c0c0c0"/><rect x="537" y="236" width="2" height="1" fill="#c0c0c0"/></g>
<g class="t"><text x="39.50" y="176.7" text-anchor="middle">0</text><text x="107.65" y="176.7" text-anchor="middle">1</text><text x="175.80" y="176.7" text-anchor="middle">2</text><text x="243.95" y="176.7" text-anchor="middle">3</text><text x="37.6" y="167.40" text-anchor="end">0</text><text x="37.6" y="138.20" text-anchor="end">1</text><text x="37.6" y="109.00" text-anchor="end">2</text><text x="37.6" y="79.80" text-anchor="end">3</text><text x="37.6" y="50.60" text-anchor="end">4</text><text x="37.6" y="21.40" text-anchor="end">5</text><text x="330.50" y="173.6" text-anchor="middle">0</text><text x="398.62" y="173.6" text-anchor="middle">1</text><text x="466.74" y="173.6" text-anchor="middle">2</text><text x="534.85" y="173.6" text-anchor="middle">3</text><text x="328.5" y="24.70" text-anchor="end">0</text><text x="328.5" y="52.86" text-anchor="end">-2</text><text x="328.5" y="81.02" text-anchor="end">-4</text><text x="328.5" y="109.18" text-anchor="end">-6</text><text x="328.5" y="137.34" text-anchor="end">-8</text><text x="328.5" y="165.50" text-anchor="end">-10</text><text x="38.50" y="400.7" text-anchor="middle">0</text><text x="124.86" y="400.7" text-anchor="middle">1</text><text x="211.22" y="400.7" text-anchor="middle">2</text><text x="36.6" y="391.40" text-anchor="end">0</text><text x="36.6" y="338.13" text-anchor="end">2</text><text x="36.6" y="284.87" text-anchor="end">4</text><text x="36.6" y="231.60" text-anchor="end">6</text><text x="331.40" y="402.8" text-anchor="middle">0</text><text x="414.60" y="402.8" text-anchor="middle">1</text><text x="497.80" y="402.8" text-anchor="middle">2</text><text x="329.5" y="393.00" text-anchor="end">-1</text><text x="329.5" y="342.20" text-anchor="end">0</text><text x="329.5" y="291.40" text-anchor="end">1</text><text x="329.5" y="240.60" text-anchor="end">2</text></g>
<rect x="55.5" y="18.5" width="47.0" height="47.0" fill="#fff" stroke="#b4b4b4" stroke-width="1"/>
<path d="M58.9,27.0 H78.3" stroke="#3434ff" stroke-dasharray="1.2 0.45" stroke-width="1.35" fill="none"/>
<text x="81.1" y="31.8" class="lg"><tspan font-style="italic">s</tspan>=2</text>
<path d="M58.9,41.7 H78.3" stroke="#0c860c" stroke-dasharray="2.8 0.9" stroke-width="1.35" fill="none"/>
<text x="81.1" y="46.5" class="lg"><tspan font-style="italic">s</tspan>=4</text>
<path d="M58.9,56.6 H78.3" stroke="#ff1c1c" stroke-dasharray="3 0.7 1 0.7" stroke-width="1.35" fill="none"/>
<text x="81.1" y="61.4" class="lg"><tspan font-style="italic">s</tspan>=6</text><rect x="354.5" y="94.5" width="47.0" height="45.0" fill="#fff" stroke="#b4b4b4" stroke-width="1"/>
<path d="M357.9,102.1 H376.8" stroke="#3434ff" stroke-dasharray="1.2 0.45" stroke-width="1.35" fill="none"/>
<text x="380.1" y="106.89999999999999" class="lg"><tspan font-style="italic">s</tspan>=2</text>
<path d="M357.9,116.9 H376.8" stroke="#0c860c" stroke-dasharray="2.8 0.9" stroke-width="1.35" fill="none"/>
<text x="380.1" y="121.7" class="lg"><tspan font-style="italic">s</tspan>=4</text>
<path d="M357.9,131.5 H376.8" stroke="#ff1c1c" stroke-dasharray="3 0.7 1 0.7" stroke-width="1.35" fill="none"/>
<text x="380.1" y="136.3" class="lg"><tspan font-style="italic">s</tspan>=6</text><rect x="52.5" y="242.5" width="48.0" height="48.0" fill="#fff" stroke="#b4b4b4" stroke-width="1"/>
<path d="M56.1,251 H75.9" stroke="#3434ff" stroke-dasharray="1.2 0.45" stroke-width="1.35" fill="none"/>
<text x="78.7" y="255.8" class="lg"><tspan font-style="italic">s</tspan>=1</text>
<path d="M56.1,266.2 H75.9" stroke="#0c860c" stroke-dasharray="2.8 0.9" stroke-width="1.35" fill="none"/>
<text x="78.7" y="271.0" class="lg"><tspan font-style="italic">s</tspan>=3</text>
<path d="M56.1,281.1 H75.9" stroke="#ff1c1c" stroke-dasharray="3 0.7 1 0.7" stroke-width="1.35" fill="none"/>
<text x="78.7" y="285.90000000000003" class="lg"><tspan font-style="italic">s</tspan>=5</text><rect x="345.5" y="246.5" width="47.0" height="46.0" fill="#fff" stroke="#b4b4b4" stroke-width="1"/>
<path d="M348.8,254.2 H367.8" stroke="#3434ff" stroke-dasharray="1.2 0.45" stroke-width="1.35" fill="none"/>
<text x="370.5" y="259.0" class="lg"><tspan font-style="italic">s</tspan>=1</text>
<path d="M348.8,268.9 H367.8" stroke="#0c860c" stroke-dasharray="2.8 0.9" stroke-width="1.35" fill="none"/>
<text x="370.5" y="273.7" class="lg"><tspan font-style="italic">s</tspan>=3</text>
<path d="M348.8,283.4 H367.8" stroke="#ff1c1c" stroke-dasharray="3 0.7 1 0.7" stroke-width="1.35" fill="none"/>
<text x="370.5" y="288.2" class="lg"><tspan font-style="italic">s</tspan>=5</text>

<text x="152.7" y="189" class="xl" text-anchor="middle">ωh</text>
<text x="438" y="187.6" class="xl" text-anchor="middle">ωh</text>
<text x="155.2" y="413.8" class="xl" text-anchor="middle">ωh</text>
<text x="433.4" y="414" class="xl" text-anchor="middle">ωh</text>
<text transform="translate(22,84.3) rotate(-90)" text-anchor="middle" class="yl">Real <tspan dy="-1.6">(</tspan><tspan font-style="italic" style="font-size:12.5px">ω</tspan><tspan font-size="8" dy="-5" dx="-0.5">*</tspan><tspan dy="5" font-style="italic">h</tspan>)</text>
<text transform="translate(305.6,82.9) rotate(-90)" text-anchor="middle" class="yl" style="font-size:11.5px">Imag <tspan dy="-1.6">(</tspan><tspan font-style="italic" style="font-size:12.5px">ω</tspan><tspan font-size="8" dy="-5" dx="-0.5">*</tspan><tspan dy="5" font-style="italic">h</tspan>)</text>
<text transform="translate(18.5,298.9) rotate(-90)" text-anchor="middle" class="yl">Real <tspan dy="-1.6">(</tspan><tspan font-style="italic" style="font-size:12.5px">ω</tspan><tspan font-size="8" dy="-5" dx="-0.5">*</tspan><tspan dy="5" font-style="italic">h</tspan>)</text>
<text transform="translate(315.2,303.2) rotate(-90)" text-anchor="middle" class="yl" style="font-size:11.5px">Imag <tspan dy="-1.6">(</tspan><tspan font-style="italic" style="font-size:12.5px">ω</tspan><tspan font-size="8" dy="-5" dx="-0.5">*</tspan><tspan dy="5" font-style="italic">h</tspan>)</text>
<text x="331.2" y="232" class="tk"><tspan font-size="16" dy="2">×</tspan><tspan font-size="13" dy="-2">10</tspan><tspan font-size="9" dy="-5">−15</tspan></text>
<text x="278" y="210.2" class="cap" text-anchor="middle">(<tspan font-weight="bold">a</tspan>)</text>
<text x="278" y="435" class="cap" text-anchor="middle">(<tspan font-weight="bold">b</tspan>)</text>

</svg>
</body></html>
